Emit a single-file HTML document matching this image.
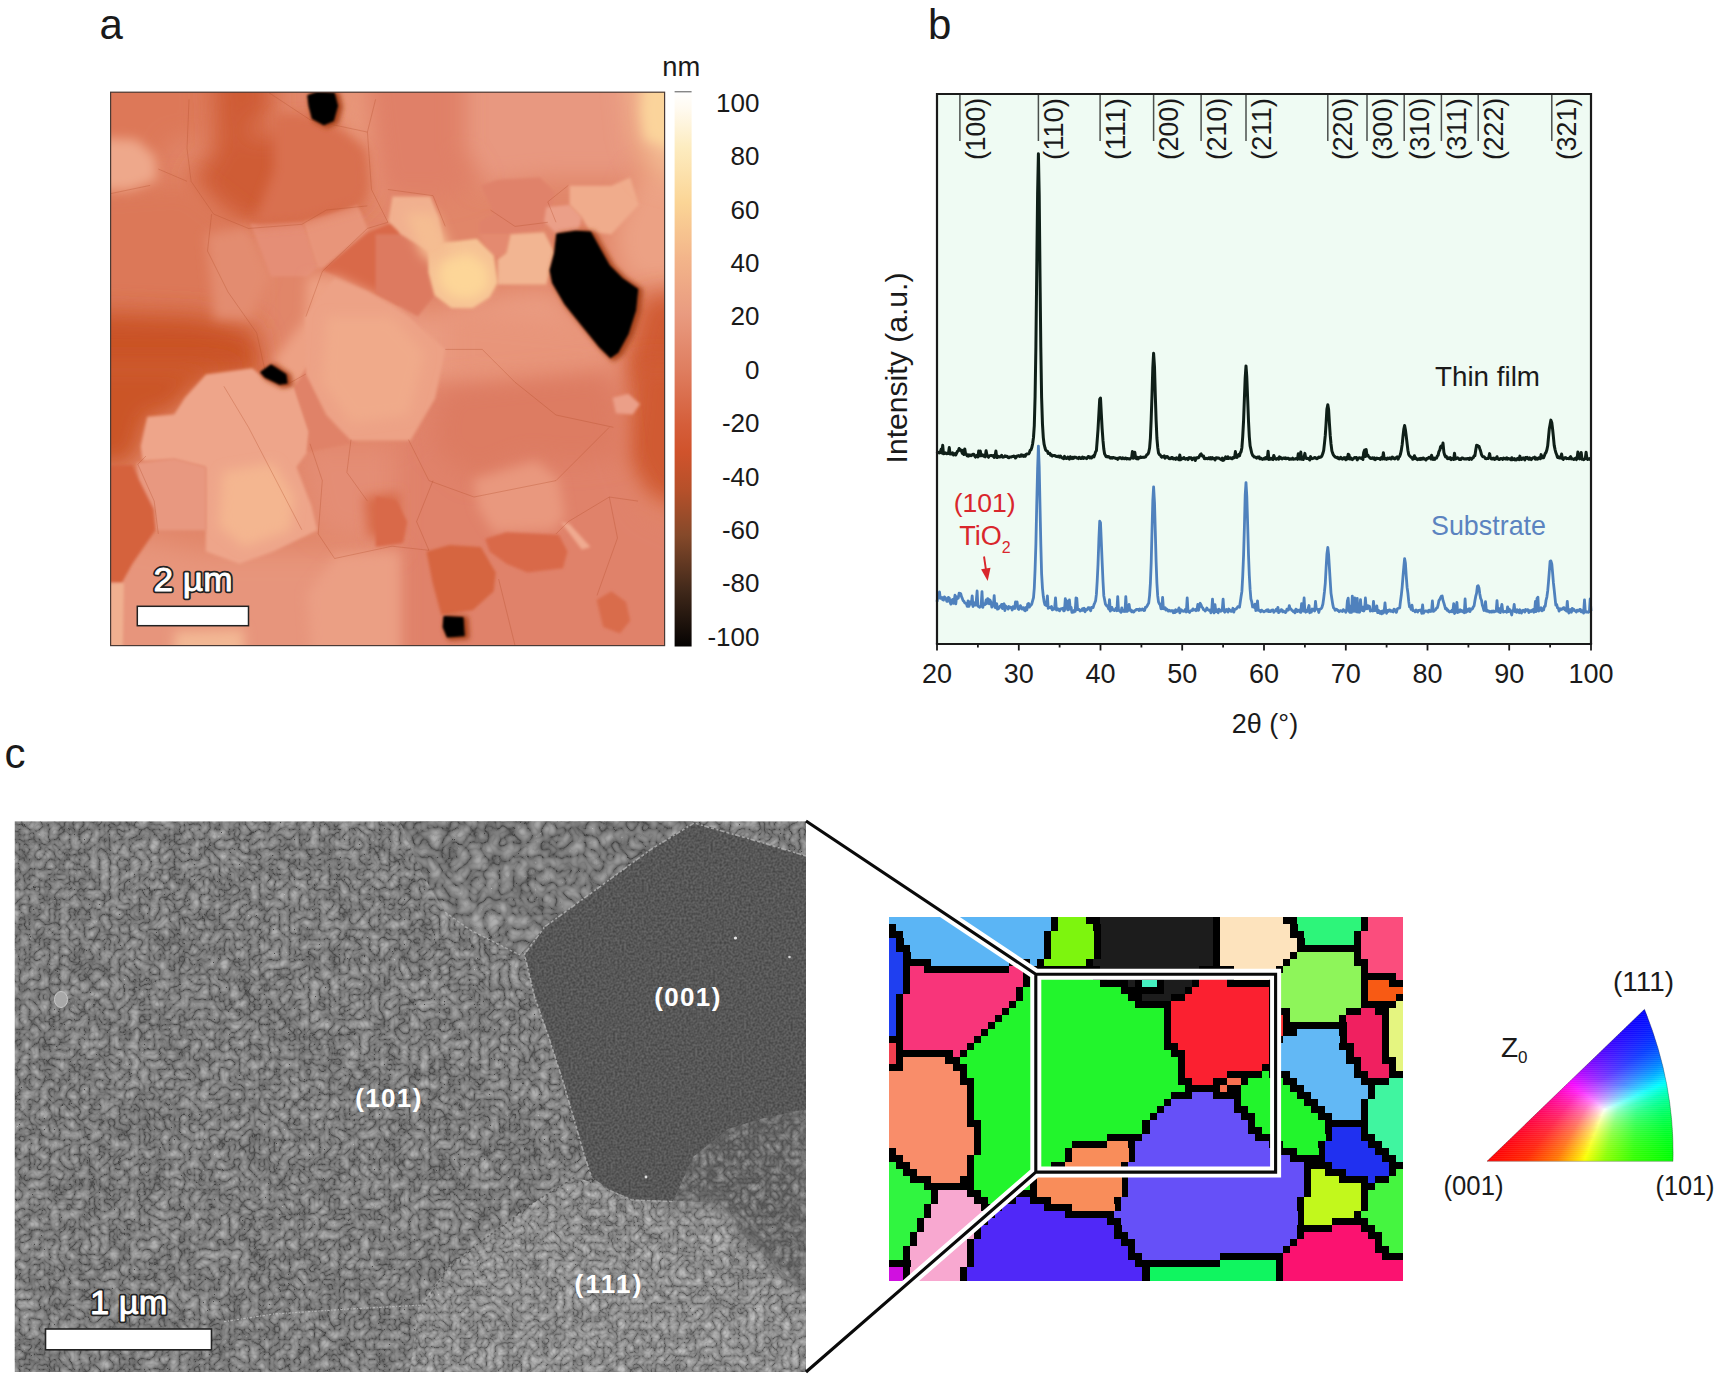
<!DOCTYPE html>
<html><head><meta charset="utf-8"><title>Figure</title>
<style>html,body{margin:0;padding:0;background:#fff;overflow:hidden}svg{display:block}text{font-family:"Liberation Sans",sans-serif}</style>
</head><body>
<svg width="1725" height="1378" viewBox="0 0 1725 1378">
<rect width="1725" height="1378" fill="#fff"/>
<defs><filter id="ab1" x="-20%" y="-20%" width="140%" height="140%"><feGaussianBlur stdDeviation="3.5"/></filter><filter id="ab2" x="-30%" y="-30%" width="160%" height="160%"><feGaussianBlur stdDeviation="14"/></filter><filter id="ab3" x="-40%" y="-40%" width="180%" height="180%"><feGaussianBlur stdDeviation="30"/></filter><filter id="ah" x="-30%" y="-30%" width="160%" height="160%"><feGaussianBlur stdDeviation="2"/></filter><filter id="ah2" x="-40%" y="-40%" width="180%" height="180%"><feGaussianBlur stdDeviation="6"/></filter><clipPath id="afmclip"><rect x="14" y="12" width="1351" height="1350"/></clipPath><linearGradient id="cbar" x1="0" y1="0" x2="0" y2="1"><stop offset="0" stop-color="#ffffff"/><stop offset="0.03" stop-color="#fffaf0"/><stop offset="0.1" stop-color="#fdecc0"/><stop offset="0.2" stop-color="#fbd596"/><stop offset="0.3" stop-color="#f3b58a"/><stop offset="0.4" stop-color="#e99b80"/><stop offset="0.5" stop-color="#df7e60"/><stop offset="0.6" stop-color="#d55e3a"/><stop offset="0.65" stop-color="#d0532c"/><stop offset="0.72" stop-color="#b5502a"/><stop offset="0.8" stop-color="#85492a"/><stop offset="0.9" stop-color="#40281a"/><stop offset="1" stop-color="#050302"/></linearGradient></defs>
<g transform="translate(105,87) scale(0.41001)"><g clip-path="url(#afmclip)">
<rect x="0" y="0" width="1378" height="1378" fill="#e18669"/>
<polygon points="-150,-150 246,-150 246,118 154,133 128,257 -150,267" fill="#dd7858" filter="url(#ab3)"/>
<polygon points="252,-140 400,-140 411,67 328,118 513,103 636,154 642,246 616,287 482,334 328,349 272,328 205,226 267,154" fill="#cf5c36" filter="url(#ab3)"/>
<polygon points="580,-150 707,-150 707,267 647,267 636,154 565,98" fill="#e9997c" filter="url(#ab3)"/>
<polygon points="-150,257 205,231 359,349 359,565 205,565 -150,539" fill="#dc7858" filter="url(#ab3)"/>
<polygon points="-150,539 231,554 370,590 390,707 -150,707" fill="#ca5226" filter="url(#ab3)"/>
<polygon points="-150,671 359,671 246,701 195,758 169,799 103,804 87,876 62,922 -150,927" fill="#cb5428" filter="url(#ab3)"/>
<polygon points="866,-150 1312,-150 1302,221 1081,221 917,241 866,154" fill="#e89880" filter="url(#ab3)"/>
<polygon points="619,-150 866,-150 866,154 917,241 825,267 671,267" fill="#e08068" filter="url(#ab3)"/>
<polygon points="671,539 825,554 979,503 1092,493 1184,616 1210,719 671,719" fill="#ea9c82" filter="url(#ab3)"/>
<polygon points="1302,205 1528,205 1528,462 1312,488 1261,462 1235,359" fill="#eca184" filter="url(#ab3)"/>
<polygon points="1312,513 1539,488 1539,719 1261,719" fill="#d05a32" filter="url(#ab3)"/>
<polygon points="1287,671 1539,671 1539,1081 1312,989 1261,902 1276,799" fill="#d05a32" filter="url(#ab3)"/>
<polygon points="799,748 1235,671 1261,902 1312,1030 1528,1133 1528,1528 671,1528 671,876 737,861" fill="#e0826a" filter="url(#ab3)"/>
<polygon points="51,1092 246,1133 411,1133 565,1133 707,1133 707,1528 -150,1528 -135,1210" fill="#e7957b" filter="url(#ab3)"/>
<polygon points="472,876 707,876 707,1133 518,1081 503,1020" fill="#e48d74" filter="url(#ab3)"/>
<polygon points="830,540 1230,580 1250,720 1000,740 830,720" fill="#e8957a" filter="url(#ab3)"/>
<polygon points="825,732 1235,691 1261,902 1133,917 1030,902 897,958 799,876" fill="#dd7c62" filter="url(#ab3)"/>
<polygon points="-150,118 77,128 123,169 128,226 62,252 -150,257" fill="#eea88b" filter="url(#ab2)"/>
<polygon points="246,359 354,339 405,462 359,565 267,565" fill="#e38c70" filter="url(#ab2)"/>
<polygon points="354,334 482,328 518,441 493,462 405,462" fill="#e58e76" filter="url(#ab1)"/>
<polygon points="482,328 616,287 642,349 534,441 518,441" fill="#e8957a" filter="url(#ab1)"/>
<polygon points="529,447 642,354 719,323 719,534 565,462" fill="#d9694a" filter="url(#ab1)"/>
<polygon points="493,462 565,462 719,534 719,719 441,719 411,667 488,565" fill="#eda184" filter="url(#ab2)"/>
<polygon points="411,67 493,67 565,98 636,154 642,246 616,287 482,328 359,339 411,205" fill="#d9704f" filter="url(#ab2)"/>
<polygon points="660,359 722,359 789,400 789,452 804,508 763,559 660,503" fill="#dd7a60" filter="url(#ab1)"/>
<polygon points="917,241 958,226 1061,221 1097,257 1081,328 1061,349 989,359 912,359 912,328 948,308" fill="#e0826a" filter="url(#ab1)"/>
<polygon points="912,359 989,359 979,405 958,416 938,405" fill="#e48a70" filter="url(#ab1)"/>
<polygon points="701,267 794,267 814,318 825,380 789,400 722,359 691,328" fill="#f1b08f" filter="url(#ab1)"/>
<polygon points="989,359 1071,354 1097,405 1086,447 1076,482 958,482 958,421 979,405" fill="#f2b592" filter="url(#ab1)"/>
<polygon points="789,400 825,380 907,370 948,411 958,477 938,513 897,539 845,539 804,508 789,452" fill="#f6c294" filter="url(#ab1)"/>
<polygon points="732,308 804,308 840,390 825,441 773,411" fill="#f5bd92" filter="url(#ab2)"/>
<polygon points="820,426 886,405 932,436 938,488 897,518 845,513 814,477" fill="#fdd698" filter="url(#ab2)"/>
<polygon points="1076,293 1133,287 1163,318 1153,354 1102,359 1071,328" fill="#eb9f88" filter="url(#ab1)"/>
<polygon points="1133,241 1235,241 1281,221 1302,287 1235,359 1184,354 1163,318 1133,287" fill="#f0ac8c" filter="url(#ab1)"/>
<polygon points="1261,-140 1519,-140 1519,267 1328,216 1287,128" fill="#f3b891" filter="url(#ab3)"/>
<polygon points="1323,-140 1519,-140 1519,241 1493,195 1317,128 1307,62" fill="#fbd49b" filter="url(#ab2)"/>
<polygon points="246,701 359,686 390,712 462,732 498,840 493,891 467,927 503,1020 518,1081 411,1133 328,1163 246,1133 246,927 169,907 92,912 87,876 103,804 169,799 195,758" fill="#eea58a" filter="url(#ab1)"/>
<polygon points="287,938 411,917 462,999 452,1081 339,1122 277,1071" fill="#f4b690" filter="url(#ab2)"/>
<polygon points="77,917 169,907 246,927 246,1081 123,1081 118,1030 82,958" fill="#e89880" filter="url(#ab1)"/>
<polygon points="-150,927 67,922 82,958 118,1030 123,1081 67,1163 41,1210 -150,1204" fill="#d5623e" filter="url(#ab1)"/>
<polygon points="-135,1215 46,1210 41,1514 -135,1514" fill="#f0b090" filter="url(#ab1)"/>
<polygon points="169,1328 339,1323 339,1514 169,1514" fill="#f3b894" filter="url(#ab2)"/>
<polygon points="462,732 493,681 524,773 565,835 616,866 493,891 498,840" fill="#e08268" filter="url(#ab1)"/>
<polygon points="631,999 719,989 719,1102 642,1097" fill="#d86a48" filter="url(#ab2)"/>
<polygon points="565,1143 719,1133 719,1514 513,1514 493,1235" fill="#eb9f84" filter="url(#ab2)"/>
<polygon points="560,468 640,500 740,560 830,640 805,760 745,862 600,862 540,800 490,700 488,560" fill="#eda286" filter="url(#ab1)"/>
<polygon points="540,560 700,560 780,650 740,800 600,820 530,720" fill="#f0aa8a" filter="url(#ab2)"/>
<polygon points="897,958 1051,912 1107,958 1122,1051 1092,1081 948,1086 912,1030" fill="#e9987e" filter="url(#ab2)"/>
<polygon points="1238,758 1276,748 1305,773 1287,799 1246,796" fill="#eb9f88" filter="url(#ab1)"/>
<polygon points="927,1102 979,1086 1107,1092 1128,1133 1117,1174 1030,1184 979,1163 938,1133" fill="#d9694a" filter="url(#ab1)"/>
<polygon points="784,1133 840,1117 917,1122 953,1184 948,1230 897,1276 820,1287 799,1210" fill="#d66540" filter="url(#ab1)"/>
<polygon points="660,999 712,1009 737,1061 727,1112 660,1122" fill="#d9694a" filter="url(#ab1)"/>
<polygon points="1199,1251 1235,1230 1271,1256 1281,1302 1256,1333 1215,1317" fill="#d96c4c" filter="url(#ab1)"/>
<polygon points="1112,1061 1133,1066 1184,1122 1163,1128" fill="#f0aa90" filter="url(#ab1)"/>
<polyline points="205,30 200,150 210,230 265,310 350,345" fill="none" stroke="#b24c28" stroke-opacity="0.32" stroke-width="2.4" stroke-linejoin="round"/>
<polyline points="350,345 480,335 540,300 640,290" fill="none" stroke="#b24c28" stroke-opacity="0.32" stroke-width="2.4" stroke-linejoin="round"/>
<polyline points="400,14 500,80 640,110 660,30" fill="none" stroke="#b24c28" stroke-opacity="0.32" stroke-width="2.4" stroke-linejoin="round"/>
<polyline points="640,110 650,250 690,330 640,345 530,450 490,560" fill="none" stroke="#b24c28" stroke-opacity="0.32" stroke-width="2.4" stroke-linejoin="round"/>
<polyline points="690,250 800,265 830,340" fill="none" stroke="#b24c28" stroke-opacity="0.32" stroke-width="2.4" stroke-linejoin="round"/>
<polyline points="130,200 200,230" fill="none" stroke="#b24c28" stroke-opacity="0.32" stroke-width="2.4" stroke-linejoin="round"/>
<polyline points="14,260 110,240" fill="none" stroke="#b24c28" stroke-opacity="0.32" stroke-width="2.4" stroke-linejoin="round"/>
<polyline points="260,310 250,400 300,500 370,600 390,690" fill="none" stroke="#b24c28" stroke-opacity="0.32" stroke-width="2.4" stroke-linejoin="round"/>
<polyline points="445,725 490,700" fill="none" stroke="#b24c28" stroke-opacity="0.32" stroke-width="2.4" stroke-linejoin="round"/>
<polyline points="920,640 1000,720 1100,800 1240,830" fill="none" stroke="#b24c28" stroke-opacity="0.32" stroke-width="2.4" stroke-linejoin="round"/>
<polyline points="290,730 350,830 480,1080" fill="none" stroke="#b24c28" stroke-opacity="0.32" stroke-width="2.4" stroke-linejoin="round"/>
<polyline points="1100,330 1080,280 1130,240" fill="none" stroke="#b24c28" stroke-opacity="0.32" stroke-width="2.4" stroke-linejoin="round"/>
<polyline points="940,300 1000,340 1080,330" fill="none" stroke="#b24c28" stroke-opacity="0.32" stroke-width="2.4" stroke-linejoin="round"/>
<polyline points="740,860 790,960 900,1000 1100,960 1230,830" fill="none" stroke="#b24c28" stroke-opacity="0.32" stroke-width="2.4" stroke-linejoin="round"/>
<polyline points="600,860 590,940 640,1010" fill="none" stroke="#b24c28" stroke-opacity="0.32" stroke-width="2.4" stroke-linejoin="round"/>
<polyline points="500,870 530,960 520,1090 560,1150" fill="none" stroke="#b24c28" stroke-opacity="0.32" stroke-width="2.4" stroke-linejoin="round"/>
<polyline points="800,960 760,1060 790,1130" fill="none" stroke="#b24c28" stroke-opacity="0.32" stroke-width="2.4" stroke-linejoin="round"/>
<polyline points="1100,1090 1130,1060 1230,1000 1300,1010" fill="none" stroke="#b24c28" stroke-opacity="0.32" stroke-width="2.4" stroke-linejoin="round"/>
<polyline points="560,1150 700,1120 790,1130" fill="none" stroke="#b24c28" stroke-opacity="0.32" stroke-width="2.4" stroke-linejoin="round"/>
<polyline points="100,900 80,920 120,1010 130,1090" fill="none" stroke="#b24c28" stroke-opacity="0.32" stroke-width="2.4" stroke-linejoin="round"/>
<polyline points="830,640 920,640" fill="none" stroke="#b24c28" stroke-opacity="0.32" stroke-width="2.4" stroke-linejoin="round"/>
<polyline points="1230,1000 1250,1100 1200,1240" fill="none" stroke="#b24c28" stroke-opacity="0.32" stroke-width="2.4" stroke-linejoin="round"/>
<polyline points="960,1200 1000,1362" fill="none" stroke="#b24c28" stroke-opacity="0.32" stroke-width="2.4" stroke-linejoin="round"/>
<polygon points="495,21 518,13 559,15 567,46 557,82 534,92 506,77 498,46" fill="#a8441a" stroke="#a8441a" stroke-width="12" stroke-linejoin="round" filter="url(#ah2)" transform="translate(7,3)"/>
<polygon points="495,21 518,13 559,15 567,46 557,82 534,92 506,77 498,46" fill="#050200" stroke="#050200" stroke-width="3" stroke-linejoin="round" filter="url(#ah)"/>
<polygon points="1102,359 1148,352 1184,354 1204,390 1230,436 1261,467 1299,493 1294,544 1276,601 1251,647 1233,660 1204,631 1163,580 1122,529 1092,477 1086,447 1097,405" fill="#a8441a" stroke="#a8441a" stroke-width="12" stroke-linejoin="round" filter="url(#ah2)" transform="translate(7,3)"/>
<polygon points="1102,359 1148,352 1184,354 1204,390 1230,436 1261,467 1299,493 1294,544 1276,601 1251,647 1233,660 1204,631 1163,580 1122,529 1092,477 1086,447 1097,405" fill="#050200" stroke="#050200" stroke-width="3" stroke-linejoin="round" filter="url(#ah)"/>
<polygon points="380,696 405,678 441,701 444,722 426,725 390,707" fill="#a8441a" stroke="#a8441a" stroke-width="12" stroke-linejoin="round" filter="url(#ah2)" transform="translate(7,3)"/>
<polygon points="380,696 405,678 441,701 444,722 426,725 390,707" fill="#050200" stroke="#050200" stroke-width="3" stroke-linejoin="round" filter="url(#ah)"/>
<polygon points="827,1292 873,1294 876,1338 835,1341 825,1317" fill="#a8441a" stroke="#a8441a" stroke-width="12" stroke-linejoin="round" filter="url(#ah2)" transform="translate(7,3)"/>
<polygon points="827,1292 873,1294 876,1338 835,1341 825,1317" fill="#050200" stroke="#050200" stroke-width="3" stroke-linejoin="round" filter="url(#ah)"/>
</g></g>
<rect x="110.6" y="92.2" width="554" height="553.4" fill="none" stroke="#4a3a35" stroke-width="1.2"/>
<rect x="137.3" y="606.3" width="111.2" height="19.4" fill="#fff" stroke="#222" stroke-width="1.5"/>
<text x="153.5" y="591" font-size="33" textLength="79" lengthAdjust="spacingAndGlyphs" fill="#222" stroke="#222" stroke-width="4.4" stroke-linejoin="round">2 µm</text>
<text x="153.5" y="591" font-size="33" textLength="79" lengthAdjust="spacingAndGlyphs" fill="#fff" stroke="#fff" stroke-width="0.9" stroke-linejoin="round">2 µm</text>
<rect x="674.6" y="91.5" width="17" height="555" fill="url(#cbar)"/>
<line x1="674.6" y1="91.8" x2="691.6" y2="91.8" stroke="#555" stroke-width="1"/>
<text x="681.3" y="76" font-size="27" textLength="38" lengthAdjust="spacingAndGlyphs" text-anchor="middle" fill="#1a1a1a">nm</text>
<text x="759.5" y="111.8" font-size="26" text-anchor="end" fill="#1a1a1a">100</text>
<text x="759.5" y="165.2" font-size="26" text-anchor="end" fill="#1a1a1a">80</text>
<text x="759.5" y="218.6" font-size="26" text-anchor="end" fill="#1a1a1a">60</text>
<text x="759.5" y="272.0" font-size="26" text-anchor="end" fill="#1a1a1a">40</text>
<text x="759.5" y="325.4" font-size="26" text-anchor="end" fill="#1a1a1a">20</text>
<text x="759.5" y="378.8" font-size="26" text-anchor="end" fill="#1a1a1a">0</text>
<text x="759.5" y="432.2" font-size="26" text-anchor="end" fill="#1a1a1a">-20</text>
<text x="759.5" y="485.6" font-size="26" text-anchor="end" fill="#1a1a1a">-40</text>
<text x="759.5" y="539.0" font-size="26" text-anchor="end" fill="#1a1a1a">-60</text>
<text x="759.5" y="592.4" font-size="26" text-anchor="end" fill="#1a1a1a">-80</text>
<text x="759.5" y="645.8" font-size="26" text-anchor="end" fill="#1a1a1a">-100</text>
<rect x="937" y="94" width="654" height="550" fill="#effbf3"/>
<line x1="959.9" y1="94" x2="959.9" y2="141" stroke="#4a4f4c" stroke-width="1.5"/>
<text transform="translate(984.5,160) rotate(-90)" font-size="27" textLength="62" lengthAdjust="spacingAndGlyphs" fill="#1a1a1a">(100)</text>
<line x1="1038.4" y1="94" x2="1038.4" y2="141" stroke="#4a4f4c" stroke-width="1.5"/>
<text transform="translate(1063.0,160) rotate(-90)" font-size="27" textLength="62" lengthAdjust="spacingAndGlyphs" fill="#1a1a1a">(110)</text>
<line x1="1100.1" y1="94" x2="1100.1" y2="141" stroke="#4a4f4c" stroke-width="1.5"/>
<text transform="translate(1124.7,160) rotate(-90)" font-size="27" textLength="62" lengthAdjust="spacingAndGlyphs" fill="#1a1a1a">(111)</text>
<line x1="1153.6" y1="94" x2="1153.6" y2="141" stroke="#4a4f4c" stroke-width="1.5"/>
<text transform="translate(1178.2,160) rotate(-90)" font-size="27" textLength="62" lengthAdjust="spacingAndGlyphs" fill="#1a1a1a">(200)</text>
<line x1="1201.1" y1="94" x2="1201.1" y2="141" stroke="#4a4f4c" stroke-width="1.5"/>
<text transform="translate(1225.7,160) rotate(-90)" font-size="27" textLength="62" lengthAdjust="spacingAndGlyphs" fill="#1a1a1a">(210)</text>
<line x1="1246.0" y1="94" x2="1246.0" y2="141" stroke="#4a4f4c" stroke-width="1.5"/>
<text transform="translate(1270.6,160) rotate(-90)" font-size="27" textLength="62" lengthAdjust="spacingAndGlyphs" fill="#1a1a1a">(211)</text>
<line x1="1327.8" y1="94" x2="1327.8" y2="141" stroke="#4a4f4c" stroke-width="1.5"/>
<text transform="translate(1352.4,160) rotate(-90)" font-size="27" textLength="62" lengthAdjust="spacingAndGlyphs" fill="#1a1a1a">(220)</text>
<line x1="1367.0" y1="94" x2="1367.0" y2="141" stroke="#4a4f4c" stroke-width="1.5"/>
<text transform="translate(1391.6,160) rotate(-90)" font-size="27" textLength="62" lengthAdjust="spacingAndGlyphs" fill="#1a1a1a">(300)</text>
<line x1="1404.2" y1="94" x2="1404.2" y2="141" stroke="#4a4f4c" stroke-width="1.5"/>
<text transform="translate(1428.8,160) rotate(-90)" font-size="27" textLength="62" lengthAdjust="spacingAndGlyphs" fill="#1a1a1a">(310)</text>
<line x1="1441.4" y1="94" x2="1441.4" y2="141" stroke="#4a4f4c" stroke-width="1.5"/>
<text transform="translate(1466.0,160) rotate(-90)" font-size="27" textLength="62" lengthAdjust="spacingAndGlyphs" fill="#1a1a1a">(311)</text>
<line x1="1478.2" y1="94" x2="1478.2" y2="141" stroke="#4a4f4c" stroke-width="1.5"/>
<text transform="translate(1502.8,160) rotate(-90)" font-size="27" textLength="62" lengthAdjust="spacingAndGlyphs" fill="#1a1a1a">(222)</text>
<line x1="1551.8" y1="94" x2="1551.8" y2="141" stroke="#4a4f4c" stroke-width="1.5"/>
<text transform="translate(1576.4,160) rotate(-90)" font-size="27" textLength="62" lengthAdjust="spacingAndGlyphs" fill="#1a1a1a">(321)</text>
<polyline fill="none" stroke="#4f81bd" stroke-width="2.8" stroke-linejoin="round" points="937.0,601.7 937.8,597.0 938.6,596.7 939.5,591.8 940.3,598.3 941.1,597.8 941.9,597.5 942.7,599.7 943.5,600.1 944.4,596.9 945.2,597.5 946.0,598.6 946.8,601.4 947.6,601.3 948.4,597.4 949.3,597.9 950.1,602.2 950.9,604.1 951.7,600.8 952.5,599.5 953.4,603.4 954.2,600.4 955.0,595.1 955.8,603.9 956.6,596.8 957.4,598.7 958.3,598.1 959.1,593.2 959.9,593.3 960.7,593.7 961.5,596.7 962.3,598.4 963.2,600.7 964.0,601.4 964.8,602.9 965.6,603.2 966.4,603.9 967.2,606.3 968.1,600.8 968.9,606.4 969.7,603.6 970.5,601.8 971.3,604.0 972.2,595.8 973.0,606.5 973.8,602.7 974.6,605.2 975.4,605.1 976.2,601.9 977.1,591.0 977.9,606.2 978.7,606.5 979.5,607.2 980.3,606.3 981.1,606.1 982.0,591.6 982.8,607.4 983.6,603.6 984.4,604.4 985.2,604.5 986.1,600.0 986.9,603.5 987.7,598.6 988.5,599.3 989.3,603.8 990.1,600.2 991.0,602.3 991.8,607.1 992.6,603.6 993.4,605.3 994.2,595.7 995.0,607.4 995.9,607.8 996.7,603.7 997.5,609.2 998.3,608.8 999.1,608.1 999.9,606.2 1000.8,606.2 1001.6,604.4 1002.4,608.6 1003.2,604.6 1004.0,603.8 1004.9,610.5 1005.7,606.0 1006.5,606.7 1007.3,607.0 1008.1,609.1 1008.9,606.5 1009.8,607.7 1010.6,607.1 1011.4,607.6 1012.2,610.0 1013.0,606.6 1013.8,608.2 1014.7,608.5 1015.5,602.0 1016.3,606.2 1017.1,601.9 1017.9,608.7 1018.8,609.4 1019.6,608.2 1020.4,605.6 1021.2,607.0 1022.0,609.1 1022.8,607.9 1023.7,607.7 1024.5,610.2 1025.3,610.7 1026.1,607.3 1026.9,609.9 1027.7,604.0 1028.6,603.5 1029.4,607.2 1030.2,605.0 1031.0,605.3 1031.8,603.9 1032.6,600.8 1033.5,597.6 1034.3,588.0 1035.1,569.0 1035.9,543.9 1036.7,506.2 1037.6,469.1 1038.4,446.1 1039.2,466.7 1040.0,505.5 1040.8,543.6 1041.6,573.6 1042.5,588.6 1043.3,596.3 1044.1,601.6 1044.9,604.7 1045.7,603.7 1046.5,605.6 1047.4,595.9 1048.2,608.3 1049.0,607.5 1049.8,607.3 1050.6,608.0 1051.5,606.4 1052.3,609.9 1053.1,609.3 1053.9,609.1 1054.7,607.4 1055.5,597.9 1056.4,610.0 1057.2,609.7 1058.0,608.8 1058.8,610.2 1059.6,610.8 1060.4,608.8 1061.3,609.0 1062.1,608.6 1062.9,608.3 1063.7,610.9 1064.5,610.5 1065.3,598.6 1066.2,608.4 1067.0,601.0 1067.8,609.9 1068.6,609.5 1069.4,600.0 1070.3,609.2 1071.1,607.2 1071.9,612.4 1072.7,612.1 1073.5,612.2 1074.3,610.2 1075.2,611.3 1076.0,597.9 1076.8,598.3 1077.6,609.7 1078.4,609.5 1079.2,609.3 1080.1,611.0 1080.9,610.5 1081.7,610.3 1082.5,608.6 1083.3,610.2 1084.2,608.2 1085.0,611.8 1085.8,609.7 1086.6,610.0 1087.4,609.6 1088.2,607.6 1089.1,607.7 1089.9,609.2 1090.7,610.8 1091.5,607.3 1092.3,607.4 1093.1,607.6 1094.0,604.6 1094.8,602.8 1095.6,600.8 1096.4,594.2 1097.2,581.2 1098.0,564.6 1098.9,539.3 1099.7,521.2 1100.5,522.7 1101.3,541.6 1102.1,560.8 1103.0,581.3 1103.8,595.7 1104.6,599.7 1105.4,603.9 1106.2,605.2 1107.0,606.1 1107.9,607.0 1108.7,609.0 1109.5,599.7 1110.3,611.2 1111.1,609.6 1111.9,607.4 1112.8,609.9 1113.6,609.6 1114.4,610.6 1115.2,610.1 1116.0,608.2 1116.9,610.8 1117.7,596.7 1118.5,609.6 1119.3,610.8 1120.1,610.9 1120.9,612.4 1121.8,607.8 1122.6,611.0 1123.4,611.4 1124.2,610.2 1125.0,611.4 1125.8,596.6 1126.7,611.4 1127.5,611.3 1128.3,609.5 1129.1,604.4 1129.9,610.4 1130.7,609.8 1131.6,611.8 1132.4,610.8 1133.2,612.1 1134.0,611.9 1134.8,610.5 1135.7,610.2 1136.5,609.3 1137.3,609.4 1138.1,609.3 1138.9,610.5 1139.7,609.0 1140.6,610.0 1141.4,610.0 1142.2,609.0 1143.0,609.1 1143.8,610.7 1144.6,610.5 1145.5,607.2 1146.3,607.2 1147.1,606.0 1147.9,604.4 1148.7,603.1 1149.6,595.3 1150.4,583.1 1151.2,562.6 1152.0,531.0 1152.8,501.1 1153.6,486.8 1154.5,502.5 1155.3,531.4 1156.1,561.3 1156.9,583.0 1157.7,595.9 1158.5,601.9 1159.4,603.8 1160.2,604.7 1161.0,608.8 1161.8,608.7 1162.6,597.4 1163.4,608.5 1164.3,608.9 1165.1,607.7 1165.9,610.1 1166.7,609.1 1167.5,609.8 1168.4,611.1 1169.2,610.3 1170.0,611.1 1170.8,611.0 1171.6,610.6 1172.4,610.7 1173.3,612.8 1174.1,610.6 1174.9,612.6 1175.7,609.8 1176.5,611.7 1177.3,611.1 1178.2,610.1 1179.0,607.9 1179.8,612.8 1180.6,609.7 1181.4,609.9 1182.3,611.1 1183.1,611.1 1183.9,611.3 1184.7,610.7 1185.5,609.3 1186.3,612.0 1187.2,597.9 1188.0,611.3 1188.8,611.7 1189.6,612.4 1190.4,610.8 1191.2,610.7 1192.1,610.7 1192.9,608.9 1193.7,610.1 1194.5,609.8 1195.3,609.5 1196.1,610.7 1197.0,609.8 1197.8,604.4 1198.6,610.3 1199.4,605.5 1200.2,603.3 1201.1,605.0 1201.9,607.2 1202.7,607.8 1203.5,609.7 1204.3,609.9 1205.1,611.0 1206.0,610.2 1206.8,608.0 1207.6,609.6 1208.4,610.0 1209.2,610.4 1210.0,609.9 1210.9,612.8 1211.7,610.8 1212.5,599.1 1213.3,610.7 1214.1,612.9 1215.0,604.6 1215.8,611.7 1216.6,609.5 1217.4,611.5 1218.2,612.8 1219.0,609.2 1219.9,610.0 1220.7,611.2 1221.5,610.7 1222.3,609.4 1223.1,599.2 1223.9,610.9 1224.8,612.2 1225.6,611.1 1226.4,609.4 1227.2,610.1 1228.0,612.1 1228.8,609.0 1229.7,609.9 1230.5,611.0 1231.3,611.4 1232.1,611.0 1232.9,608.3 1233.8,612.1 1234.6,609.3 1235.4,609.2 1236.2,608.9 1237.0,608.1 1237.8,606.7 1238.7,606.6 1239.5,607.2 1240.3,601.9 1241.1,596.4 1241.9,591.4 1242.7,576.6 1243.6,554.6 1244.4,526.7 1245.2,495.0 1246.0,482.6 1246.8,496.4 1247.7,526.1 1248.5,554.9 1249.3,575.3 1250.1,589.2 1250.9,598.8 1251.7,601.6 1252.6,606.9 1253.4,606.5 1254.2,607.4 1255.0,604.2 1255.8,610.6 1256.6,609.6 1257.5,600.9 1258.3,610.4 1259.1,609.9 1259.9,610.8 1260.7,611.7 1261.5,610.1 1262.4,611.0 1263.2,611.1 1264.0,611.9 1264.8,611.4 1265.6,610.8 1266.5,610.1 1267.3,611.2 1268.1,609.7 1268.9,611.6 1269.7,611.0 1270.5,611.6 1271.4,610.4 1272.2,610.1 1273.0,610.0 1273.8,612.3 1274.6,610.8 1275.4,610.8 1276.3,609.1 1277.1,611.1 1277.9,607.3 1278.7,612.7 1279.5,610.9 1280.4,611.2 1281.2,609.6 1282.0,610.0 1282.8,611.9 1283.6,611.0 1284.4,611.7 1285.3,612.6 1286.1,611.9 1286.9,609.1 1287.7,610.1 1288.5,610.0 1289.3,605.6 1290.2,608.9 1291.0,609.0 1291.8,610.4 1292.6,610.6 1293.4,611.8 1294.2,610.9 1295.1,612.8 1295.9,609.2 1296.7,609.7 1297.5,611.5 1298.3,610.9 1299.2,610.1 1300.0,612.0 1300.8,612.4 1301.6,603.7 1302.4,610.7 1303.2,611.1 1304.1,598.0 1304.9,611.2 1305.7,612.2 1306.5,610.5 1307.3,611.5 1308.1,608.6 1309.0,605.5 1309.8,612.8 1310.6,610.9 1311.4,612.0 1312.2,609.0 1313.1,610.4 1313.9,609.0 1314.7,611.0 1315.5,601.3 1316.3,608.9 1317.1,609.3 1318.0,609.4 1318.8,612.5 1319.6,609.4 1320.4,609.1 1321.2,608.6 1322.0,607.2 1322.9,604.0 1323.7,598.2 1324.5,591.4 1325.3,583.0 1326.1,568.0 1326.9,554.3 1327.8,547.4 1328.6,554.7 1329.4,567.7 1330.2,580.5 1331.0,593.1 1331.9,599.0 1332.7,604.1 1333.5,607.8 1334.3,608.5 1335.1,610.2 1335.9,609.2 1336.8,609.3 1337.6,610.5 1338.4,610.5 1339.2,611.7 1340.0,611.0 1340.8,610.6 1341.7,611.2 1342.5,611.5 1343.3,609.6 1344.1,610.7 1344.9,610.6 1345.8,612.3 1346.6,610.5 1347.4,600.8 1348.2,598.1 1349.0,611.0 1349.8,612.3 1350.7,606.0 1351.5,612.4 1352.3,596.1 1353.1,611.2 1353.9,611.3 1354.7,598.0 1355.6,609.5 1356.4,611.9 1357.2,598.4 1358.0,612.2 1358.8,611.5 1359.6,612.2 1360.5,599.6 1361.3,609.8 1362.1,610.4 1362.9,607.1 1363.7,611.0 1364.6,609.3 1365.4,598.0 1366.2,608.3 1367.0,608.8 1367.8,605.6 1368.6,608.3 1369.5,606.3 1370.3,611.1 1371.1,610.1 1371.9,610.7 1372.7,611.0 1373.5,601.3 1374.4,610.5 1375.2,610.5 1376.0,610.0 1376.8,605.9 1377.6,612.7 1378.5,610.2 1379.3,612.3 1380.1,613.3 1380.9,611.4 1381.7,613.8 1382.5,611.0 1383.4,613.0 1384.2,611.1 1385.0,602.9 1385.8,611.5 1386.6,613.2 1387.4,610.4 1388.3,611.5 1389.1,609.9 1389.9,609.9 1390.7,611.4 1391.5,610.6 1392.3,611.3 1393.2,612.0 1394.0,609.2 1394.8,609.6 1395.6,610.2 1396.4,612.4 1397.3,609.1 1398.1,608.3 1398.9,608.2 1399.7,607.9 1400.5,601.2 1401.3,595.3 1402.2,586.6 1403.0,576.3 1403.8,567.2 1404.6,558.6 1405.4,562.9 1406.2,575.6 1407.1,587.2 1407.9,593.1 1408.7,601.2 1409.5,606.7 1410.3,607.1 1411.2,609.4 1412.0,605.2 1412.8,610.6 1413.6,610.6 1414.4,610.6 1415.2,611.9 1416.1,610.0 1416.9,610.9 1417.7,612.0 1418.5,610.3 1419.3,610.5 1420.1,610.1 1421.0,610.0 1421.8,613.3 1422.6,604.9 1423.4,613.2 1424.2,611.9 1425.0,611.2 1425.9,610.8 1426.7,611.4 1427.5,611.0 1428.3,612.1 1429.1,610.1 1430.0,611.2 1430.8,611.5 1431.6,610.7 1432.4,601.0 1433.2,611.3 1434.0,611.1 1434.9,610.1 1435.7,609.6 1436.5,608.1 1437.3,607.8 1438.1,605.0 1438.9,600.8 1439.8,599.2 1440.6,597.7 1441.4,596.2 1442.2,596.0 1443.0,600.4 1443.9,603.1 1444.7,605.8 1445.5,608.9 1446.3,608.3 1447.1,610.3 1447.9,609.9 1448.8,611.6 1449.6,612.0 1450.4,611.4 1451.2,611.7 1452.0,610.1 1452.8,611.7 1453.7,603.7 1454.5,613.5 1455.3,612.4 1456.1,609.4 1456.9,602.3 1457.7,612.6 1458.6,610.2 1459.4,611.7 1460.2,609.7 1461.0,611.2 1461.8,610.4 1462.7,611.7 1463.5,610.7 1464.3,612.7 1465.1,599.0 1465.9,612.4 1466.7,610.9 1467.6,611.4 1468.4,609.0 1469.2,608.7 1470.0,611.6 1470.8,608.9 1471.6,609.4 1472.5,608.8 1473.3,606.9 1474.1,605.9 1474.9,600.8 1475.7,596.4 1476.6,593.2 1477.4,586.2 1478.2,585.7 1479.0,587.9 1479.8,593.9 1480.6,598.2 1481.5,600.3 1482.3,605.0 1483.1,607.4 1483.9,610.5 1484.7,610.2 1485.5,601.6 1486.4,611.0 1487.2,610.2 1488.0,611.4 1488.8,611.0 1489.6,612.1 1490.4,611.4 1491.3,612.1 1492.1,611.1 1492.9,611.9 1493.7,611.0 1494.5,611.9 1495.4,611.4 1496.2,611.1 1497.0,600.6 1497.8,610.9 1498.6,611.8 1499.4,608.7 1500.3,612.6 1501.1,608.7 1501.9,604.3 1502.7,610.9 1503.5,612.1 1504.3,611.6 1505.2,611.3 1506.0,611.4 1506.8,612.3 1507.6,606.8 1508.4,611.7 1509.3,609.0 1510.1,610.8 1510.9,611.8 1511.7,615.0 1512.5,610.5 1513.3,610.9 1514.2,604.4 1515.0,611.7 1515.8,609.8 1516.6,612.3 1517.4,609.8 1518.2,611.0 1519.1,612.7 1519.9,609.8 1520.7,610.9 1521.5,613.1 1522.3,611.0 1523.1,610.1 1524.0,610.6 1524.8,612.1 1525.6,609.5 1526.4,610.5 1527.2,609.6 1528.1,609.9 1528.9,612.5 1529.7,611.0 1530.5,610.6 1531.3,611.5 1532.1,610.2 1533.0,609.6 1533.8,612.2 1534.6,611.8 1535.4,601.5 1536.2,611.5 1537.0,598.6 1537.9,597.2 1538.7,611.0 1539.5,608.9 1540.3,610.0 1541.1,607.8 1542.0,610.8 1542.8,609.0 1543.6,609.9 1544.4,606.5 1545.2,606.4 1546.0,600.5 1546.9,596.8 1547.7,590.9 1548.5,581.8 1549.3,571.5 1550.1,561.2 1550.9,560.9 1551.8,563.8 1552.6,572.9 1553.4,582.7 1554.2,589.9 1555.0,597.7 1555.8,605.1 1556.7,604.5 1557.5,607.8 1558.3,607.9 1559.1,611.1 1559.9,609.8 1560.8,608.8 1561.6,609.5 1562.4,608.7 1563.2,607.9 1564.0,607.6 1564.8,609.9 1565.7,609.5 1566.5,611.0 1567.3,601.4 1568.1,611.2 1568.9,613.0 1569.7,609.7 1570.6,609.7 1571.4,612.2 1572.2,608.4 1573.0,610.2 1573.8,609.3 1574.7,610.9 1575.5,610.8 1576.3,612.0 1577.1,610.1 1577.9,611.0 1578.7,610.9 1579.6,609.5 1580.4,609.5 1581.2,611.8 1582.0,611.9 1582.8,610.4 1583.6,613.1 1584.5,599.8 1585.3,611.9 1586.1,612.0 1586.9,611.7 1587.7,612.2 1588.5,612.3 1589.4,611.4 1590.2,598.8 1591.0,611.2"/>
<polyline fill="none" stroke="#0f1f18" stroke-width="3" stroke-linejoin="round" points="937.0,453.6 937.8,452.2 938.6,452.6 939.5,453.0 940.3,452.2 941.1,449.4 941.9,452.9 942.7,445.3 943.5,453.8 944.4,453.6 945.2,452.8 946.0,453.2 946.8,453.8 947.6,453.3 948.4,453.4 949.3,447.6 950.1,454.1 950.9,453.8 951.7,454.0 952.5,452.8 953.4,455.0 954.2,454.0 955.0,453.5 955.8,455.0 956.6,453.1 957.4,451.3 958.3,450.9 959.1,448.5 959.9,450.3 960.7,449.9 961.5,451.0 962.3,453.4 963.2,450.4 964.0,454.6 964.8,449.0 965.6,454.2 966.4,454.0 967.2,455.9 968.1,456.2 968.9,454.8 969.7,455.7 970.5,455.1 971.3,455.6 972.2,454.8 973.0,454.2 973.8,454.2 974.6,455.7 975.4,457.1 976.2,455.7 977.1,455.2 977.9,457.0 978.7,450.9 979.5,455.8 980.3,451.1 981.1,455.7 982.0,455.6 982.8,454.9 983.6,456.3 984.4,455.9 985.2,456.8 986.1,450.7 986.9,454.7 987.7,456.0 988.5,457.3 989.3,455.9 990.1,455.6 991.0,455.4 991.8,455.5 992.6,456.1 993.4,455.5 994.2,457.4 995.0,456.2 995.9,450.9 996.7,457.4 997.5,457.5 998.3,456.3 999.1,456.7 999.9,457.0 1000.8,456.4 1001.6,455.3 1002.4,457.0 1003.2,457.2 1004.0,456.9 1004.9,455.9 1005.7,456.5 1006.5,456.2 1007.3,456.4 1008.1,457.5 1008.9,457.7 1009.8,457.1 1010.6,457.0 1011.4,457.0 1012.2,456.5 1013.0,456.5 1013.8,456.0 1014.7,456.4 1015.5,458.0 1016.3,457.0 1017.1,456.1 1017.9,456.0 1018.8,455.6 1019.6,456.4 1020.4,456.3 1021.2,454.9 1022.0,456.1 1022.8,455.2 1023.7,456.4 1024.5,455.3 1025.3,456.1 1026.1,454.3 1026.9,454.0 1027.7,453.9 1028.6,453.8 1029.4,452.6 1030.2,450.3 1031.0,449.8 1031.8,447.6 1032.6,444.0 1033.5,437.4 1034.3,425.5 1035.1,396.3 1035.9,346.3 1036.7,274.6 1037.6,194.1 1038.4,153.8 1039.2,194.6 1040.0,274.6 1040.8,347.3 1041.6,397.3 1042.5,424.7 1043.3,437.6 1044.1,444.2 1044.9,447.5 1045.7,450.1 1046.5,450.7 1047.4,451.3 1048.2,453.5 1049.0,453.1 1049.8,453.3 1050.6,455.3 1051.5,454.9 1052.3,456.1 1053.1,455.6 1053.9,455.4 1054.7,455.5 1055.5,456.2 1056.4,456.5 1057.2,456.3 1058.0,456.8 1058.8,456.0 1059.6,457.2 1060.4,456.0 1061.3,457.2 1062.1,457.9 1062.9,458.2 1063.7,458.7 1064.5,456.4 1065.3,458.1 1066.2,458.5 1067.0,458.3 1067.8,457.0 1068.6,458.0 1069.4,459.1 1070.3,456.7 1071.1,458.1 1071.9,458.6 1072.7,457.4 1073.5,458.3 1074.3,457.1 1075.2,457.3 1076.0,457.3 1076.8,458.1 1077.6,457.9 1078.4,458.6 1079.2,457.3 1080.1,457.8 1080.9,458.6 1081.7,458.3 1082.5,457.0 1083.3,458.4 1084.2,457.5 1085.0,458.1 1085.8,458.0 1086.6,458.6 1087.4,457.8 1088.2,456.4 1089.1,456.6 1089.9,458.0 1090.7,457.1 1091.5,457.9 1092.3,457.1 1093.1,456.0 1094.0,456.8 1094.8,454.6 1095.6,451.8 1096.4,450.7 1097.2,440.3 1098.0,429.6 1098.9,413.6 1099.7,399.3 1100.5,398.0 1101.3,413.7 1102.1,428.2 1103.0,440.7 1103.8,449.1 1104.6,453.9 1105.4,455.4 1106.2,456.7 1107.0,456.4 1107.9,456.9 1108.7,456.5 1109.5,457.3 1110.3,458.1 1111.1,457.5 1111.9,458.2 1112.8,457.5 1113.6,457.6 1114.4,458.1 1115.2,458.0 1116.0,458.6 1116.9,458.3 1117.7,459.4 1118.5,458.1 1119.3,458.1 1120.1,457.6 1120.9,458.3 1121.8,458.8 1122.6,457.8 1123.4,458.3 1124.2,458.8 1125.0,458.2 1125.8,458.0 1126.7,459.0 1127.5,458.4 1128.3,458.6 1129.1,459.1 1129.9,459.1 1130.7,458.1 1131.6,457.9 1132.4,451.6 1133.2,458.2 1134.0,456.9 1134.8,452.2 1135.7,458.2 1136.5,458.6 1137.3,457.3 1138.1,458.9 1138.9,457.5 1139.7,457.8 1140.6,456.8 1141.4,457.5 1142.2,457.4 1143.0,457.2 1143.8,457.4 1144.6,456.9 1145.5,457.1 1146.3,455.6 1147.1,454.5 1147.9,454.1 1148.7,452.3 1149.6,448.0 1150.4,438.1 1151.2,419.0 1152.0,395.3 1152.8,368.2 1153.6,353.3 1154.5,366.9 1155.3,395.3 1156.1,419.9 1156.9,438.0 1157.7,447.2 1158.5,452.9 1159.4,454.5 1160.2,454.8 1161.0,456.4 1161.8,457.2 1162.6,456.5 1163.4,456.9 1164.3,455.8 1165.1,458.2 1165.9,457.3 1166.7,456.4 1167.5,456.7 1168.4,457.9 1169.2,458.7 1170.0,458.2 1170.8,458.6 1171.6,457.5 1172.4,457.4 1173.3,459.0 1174.1,458.8 1174.9,458.4 1175.7,459.4 1176.5,457.8 1177.3,458.2 1178.2,459.3 1179.0,459.8 1179.8,455.0 1180.6,459.8 1181.4,458.2 1182.3,458.8 1183.1,458.5 1183.9,457.5 1184.7,458.8 1185.5,459.3 1186.3,458.5 1187.2,458.6 1188.0,459.6 1188.8,457.8 1189.6,457.6 1190.4,458.2 1191.2,457.8 1192.1,459.6 1192.9,458.8 1193.7,458.0 1194.5,458.1 1195.3,460.5 1196.1,458.0 1197.0,457.7 1197.8,458.0 1198.6,457.6 1199.4,456.3 1200.2,454.6 1201.1,453.9 1201.9,455.6 1202.7,456.2 1203.5,456.0 1204.3,458.6 1205.1,458.8 1206.0,458.3 1206.8,458.4 1207.6,458.8 1208.4,458.1 1209.2,457.7 1210.0,458.9 1210.9,457.7 1211.7,458.9 1212.5,457.7 1213.3,458.6 1214.1,458.6 1215.0,459.9 1215.8,457.9 1216.6,457.7 1217.4,458.2 1218.2,457.9 1219.0,458.2 1219.9,458.9 1220.7,459.2 1221.5,459.8 1222.3,458.1 1223.1,460.4 1223.9,459.9 1224.8,458.4 1225.6,456.9 1226.4,458.4 1227.2,458.5 1228.0,456.8 1228.8,458.4 1229.7,458.2 1230.5,457.7 1231.3,458.6 1232.1,458.8 1232.9,457.6 1233.8,458.0 1234.6,457.2 1235.4,451.6 1236.2,457.3 1237.0,457.4 1237.8,456.2 1238.7,454.6 1239.5,455.8 1240.3,452.9 1241.1,451.6 1241.9,447.7 1242.7,436.8 1243.6,420.2 1244.4,398.4 1245.2,377.6 1246.0,365.9 1246.8,377.2 1247.7,400.0 1248.5,421.0 1249.3,436.6 1250.1,445.8 1250.9,449.4 1251.7,453.0 1252.6,455.3 1253.4,456.0 1254.2,456.9 1255.0,456.9 1255.8,457.4 1256.6,458.1 1257.5,457.1 1258.3,457.7 1259.1,456.9 1259.9,458.8 1260.7,458.2 1261.5,458.6 1262.4,459.4 1263.2,459.1 1264.0,458.4 1264.8,459.0 1265.6,457.5 1266.5,458.8 1267.3,458.7 1268.1,451.2 1268.9,459.5 1269.7,458.1 1270.5,459.1 1271.4,458.4 1272.2,459.4 1273.0,459.6 1273.8,455.4 1274.6,457.6 1275.4,458.6 1276.3,459.3 1277.1,458.5 1277.9,458.3 1278.7,459.1 1279.5,456.8 1280.4,458.3 1281.2,457.8 1282.0,459.0 1282.8,458.3 1283.6,458.0 1284.4,458.5 1285.3,457.8 1286.1,458.8 1286.9,458.3 1287.7,458.5 1288.5,458.3 1289.3,459.4 1290.2,458.7 1291.0,459.2 1291.8,459.1 1292.6,458.2 1293.4,459.2 1294.2,459.0 1295.1,459.0 1295.9,458.5 1296.7,458.5 1297.5,459.3 1298.3,453.8 1299.2,455.4 1300.0,459.1 1300.8,452.1 1301.6,459.3 1302.4,459.1 1303.2,459.5 1304.1,456.8 1304.9,453.4 1305.7,458.0 1306.5,458.6 1307.3,458.2 1308.1,458.2 1309.0,459.1 1309.8,459.9 1310.6,456.6 1311.4,458.3 1312.2,458.7 1313.1,458.4 1313.9,458.1 1314.7,457.4 1315.5,457.6 1316.3,458.6 1317.1,458.8 1318.0,457.9 1318.8,457.1 1319.6,457.5 1320.4,456.9 1321.2,456.9 1322.0,455.6 1322.9,453.3 1323.7,450.4 1324.5,443.2 1325.3,435.2 1326.1,423.2 1326.9,409.3 1327.8,404.7 1328.6,409.4 1329.4,423.1 1330.2,435.2 1331.0,443.9 1331.9,450.9 1332.7,453.4 1333.5,455.1 1334.3,456.1 1335.1,457.0 1335.9,457.2 1336.8,457.8 1337.6,457.4 1338.4,458.6 1339.2,458.9 1340.0,457.9 1340.8,457.3 1341.7,458.9 1342.5,459.2 1343.3,458.4 1344.1,457.6 1344.9,458.8 1345.8,459.7 1346.6,457.3 1347.4,459.0 1348.2,454.2 1349.0,454.7 1349.8,459.0 1350.7,457.8 1351.5,458.9 1352.3,459.6 1353.1,458.9 1353.9,458.1 1354.7,457.5 1355.6,457.8 1356.4,457.5 1357.2,459.9 1358.0,458.6 1358.8,458.0 1359.6,457.8 1360.5,457.9 1361.3,458.4 1362.1,457.6 1362.9,459.5 1363.7,452.5 1364.6,450.1 1365.4,456.5 1366.2,449.6 1367.0,455.8 1367.8,455.0 1368.6,456.5 1369.5,457.3 1370.3,458.3 1371.1,458.5 1371.9,457.9 1372.7,457.8 1373.5,458.8 1374.4,457.9 1375.2,459.7 1376.0,458.8 1376.8,458.0 1377.6,458.5 1378.5,458.4 1379.3,458.7 1380.1,459.4 1380.9,457.8 1381.7,457.5 1382.5,459.0 1383.4,452.8 1384.2,458.9 1385.0,459.1 1385.8,458.6 1386.6,459.3 1387.4,458.1 1388.3,458.7 1389.1,458.1 1389.9,457.8 1390.7,459.0 1391.5,458.9 1392.3,457.1 1393.2,457.7 1394.0,458.6 1394.8,459.0 1395.6,457.7 1396.4,457.9 1397.3,456.8 1398.1,459.2 1398.9,457.2 1399.7,456.4 1400.5,454.0 1401.3,450.4 1402.2,444.4 1403.0,436.2 1403.8,429.4 1404.6,425.5 1405.4,429.8 1406.2,435.9 1407.1,443.6 1407.9,450.2 1408.7,454.5 1409.5,455.8 1410.3,456.4 1411.2,457.4 1412.0,457.4 1412.8,459.3 1413.6,458.8 1414.4,455.7 1415.2,458.6 1416.1,458.0 1416.9,459.3 1417.7,459.7 1418.5,459.0 1419.3,458.6 1420.1,459.4 1421.0,458.4 1421.8,459.2 1422.6,458.2 1423.4,458.0 1424.2,459.1 1425.0,458.9 1425.9,460.0 1426.7,458.5 1427.5,458.7 1428.3,457.9 1429.1,457.3 1430.0,457.4 1430.8,458.9 1431.6,455.3 1432.4,459.3 1433.2,459.4 1434.0,458.1 1434.9,459.3 1435.7,458.0 1436.5,458.1 1437.3,456.1 1438.1,455.3 1438.9,451.7 1439.8,450.1 1440.6,446.7 1441.4,445.8 1442.2,447.5 1443.0,443.1 1443.9,452.3 1444.7,455.2 1445.5,456.8 1446.3,456.3 1447.1,458.3 1447.9,458.7 1448.8,457.8 1449.6,458.7 1450.4,457.6 1451.2,459.6 1452.0,458.5 1452.8,458.6 1453.7,459.5 1454.5,453.2 1455.3,459.1 1456.1,458.0 1456.9,458.4 1457.7,457.8 1458.6,458.6 1459.4,459.5 1460.2,458.9 1461.0,459.4 1461.8,458.0 1462.7,458.1 1463.5,458.4 1464.3,459.1 1465.1,459.0 1465.9,458.7 1466.7,459.1 1467.6,458.5 1468.4,458.6 1469.2,459.4 1470.0,458.0 1470.8,458.5 1471.6,459.3 1472.5,457.9 1473.3,457.7 1474.1,455.7 1474.9,455.7 1475.7,450.3 1476.6,445.3 1477.4,445.4 1478.2,446.1 1479.0,446.4 1479.8,448.8 1480.6,451.0 1481.5,454.6 1482.3,456.2 1483.1,456.7 1483.9,456.8 1484.7,457.4 1485.5,458.5 1486.4,458.7 1487.2,458.6 1488.0,458.5 1488.8,457.4 1489.6,453.6 1490.4,458.0 1491.3,458.8 1492.1,459.1 1492.9,458.3 1493.7,458.1 1494.5,459.5 1495.4,459.1 1496.2,458.4 1497.0,456.7 1497.8,458.8 1498.6,459.3 1499.4,459.6 1500.3,458.4 1501.1,458.4 1501.9,458.6 1502.7,459.5 1503.5,458.1 1504.3,458.8 1505.2,458.2 1506.0,459.1 1506.8,457.8 1507.6,459.1 1508.4,458.5 1509.3,458.7 1510.1,459.2 1510.9,459.7 1511.7,457.7 1512.5,459.6 1513.3,459.3 1514.2,458.7 1515.0,459.9 1515.8,459.0 1516.6,459.8 1517.4,458.4 1518.2,458.3 1519.1,459.7 1519.9,456.1 1520.7,459.3 1521.5,459.5 1522.3,458.5 1523.1,457.9 1524.0,458.7 1524.8,459.9 1525.6,457.5 1526.4,458.4 1527.2,457.4 1528.1,458.8 1528.9,459.4 1529.7,457.9 1530.5,458.4 1531.3,459.6 1532.1,458.6 1533.0,457.8 1533.8,457.7 1534.6,457.2 1535.4,459.1 1536.2,458.0 1537.0,459.2 1537.9,459.0 1538.7,457.8 1539.5,457.8 1540.3,458.6 1541.1,454.6 1542.0,457.9 1542.8,456.3 1543.6,457.6 1544.4,455.7 1545.2,453.5 1546.0,452.5 1546.9,449.7 1547.7,445.8 1548.5,437.3 1549.3,428.9 1550.1,424.4 1550.9,420.1 1551.8,422.8 1552.6,429.1 1553.4,436.9 1554.2,445.4 1555.0,449.3 1555.8,452.5 1556.7,454.7 1557.5,457.4 1558.3,456.6 1559.1,457.9 1559.9,457.9 1560.8,458.1 1561.6,454.0 1562.4,458.7 1563.2,459.4 1564.0,458.3 1564.8,457.8 1565.7,457.6 1566.5,458.7 1567.3,458.4 1568.1,458.6 1568.9,458.7 1569.7,457.7 1570.6,456.6 1571.4,458.9 1572.2,458.7 1573.0,458.9 1573.8,459.4 1574.7,458.8 1575.5,458.2 1576.3,459.6 1577.1,458.5 1577.9,451.9 1578.7,457.8 1579.6,458.9 1580.4,458.1 1581.2,452.4 1582.0,459.2 1582.8,458.9 1583.6,459.6 1584.5,459.1 1585.3,458.6 1586.1,452.3 1586.9,458.5 1587.7,459.4 1588.5,458.9 1589.4,458.6 1590.2,459.5 1591.0,459.0"/>
<path d="M937 644 V94 H1591 V644" fill="none" stroke="#1a1a1a" stroke-width="2.2"/>
<line x1="935.9" y1="644" x2="1592.1" y2="644" stroke="#1a1a1a" stroke-width="2.2"/>
<line x1="937.0" y1="644" x2="937.0" y2="650.5" stroke="#1a1a1a" stroke-width="1.8"/>
<line x1="977.9" y1="644" x2="977.9" y2="647.5" stroke="#1a1a1a" stroke-width="1.8"/>
<line x1="1018.8" y1="644" x2="1018.8" y2="650.5" stroke="#1a1a1a" stroke-width="1.8"/>
<line x1="1059.6" y1="644" x2="1059.6" y2="647.5" stroke="#1a1a1a" stroke-width="1.8"/>
<line x1="1100.5" y1="644" x2="1100.5" y2="650.5" stroke="#1a1a1a" stroke-width="1.8"/>
<line x1="1141.4" y1="644" x2="1141.4" y2="647.5" stroke="#1a1a1a" stroke-width="1.8"/>
<line x1="1182.2" y1="644" x2="1182.2" y2="650.5" stroke="#1a1a1a" stroke-width="1.8"/>
<line x1="1223.1" y1="644" x2="1223.1" y2="647.5" stroke="#1a1a1a" stroke-width="1.8"/>
<line x1="1264.0" y1="644" x2="1264.0" y2="650.5" stroke="#1a1a1a" stroke-width="1.8"/>
<line x1="1304.9" y1="644" x2="1304.9" y2="647.5" stroke="#1a1a1a" stroke-width="1.8"/>
<line x1="1345.8" y1="644" x2="1345.8" y2="650.5" stroke="#1a1a1a" stroke-width="1.8"/>
<line x1="1386.6" y1="644" x2="1386.6" y2="647.5" stroke="#1a1a1a" stroke-width="1.8"/>
<line x1="1427.5" y1="644" x2="1427.5" y2="650.5" stroke="#1a1a1a" stroke-width="1.8"/>
<line x1="1468.4" y1="644" x2="1468.4" y2="647.5" stroke="#1a1a1a" stroke-width="1.8"/>
<line x1="1509.2" y1="644" x2="1509.2" y2="650.5" stroke="#1a1a1a" stroke-width="1.8"/>
<line x1="1550.1" y1="644" x2="1550.1" y2="647.5" stroke="#1a1a1a" stroke-width="1.8"/>
<line x1="1591.0" y1="644" x2="1591.0" y2="650.5" stroke="#1a1a1a" stroke-width="1.8"/>
<text x="937.0" y="683" font-size="27" text-anchor="middle" fill="#1a1a1a">20</text>
<text x="1018.8" y="683" font-size="27" text-anchor="middle" fill="#1a1a1a">30</text>
<text x="1100.5" y="683" font-size="27" text-anchor="middle" fill="#1a1a1a">40</text>
<text x="1182.2" y="683" font-size="27" text-anchor="middle" fill="#1a1a1a">50</text>
<text x="1264.0" y="683" font-size="27" text-anchor="middle" fill="#1a1a1a">60</text>
<text x="1345.8" y="683" font-size="27" text-anchor="middle" fill="#1a1a1a">70</text>
<text x="1427.5" y="683" font-size="27" text-anchor="middle" fill="#1a1a1a">80</text>
<text x="1509.2" y="683" font-size="27" text-anchor="middle" fill="#1a1a1a">90</text>
<text x="1591.0" y="683" font-size="27" text-anchor="middle" fill="#1a1a1a">100</text>
<text x="1265" y="733" font-size="27" text-anchor="middle" fill="#1a1a1a">2θ (°)</text>
<text transform="translate(906.8,368) rotate(-90)" font-size="30" text-anchor="middle" textLength="191" lengthAdjust="spacingAndGlyphs" fill="#1a1a1a">Intensity (a.u.)</text>
<text x="1435" y="386" font-size="28" textLength="105" lengthAdjust="spacingAndGlyphs" fill="#1a1a1a">Thin film</text>
<text x="1431" y="535" font-size="28" textLength="115" lengthAdjust="spacingAndGlyphs" fill="#5b83c0">Substrate</text>
<text x="953.7" y="511.5" font-size="25" textLength="62" lengthAdjust="spacingAndGlyphs" fill="#d9262c">(101)</text>
<text x="985" y="545" font-size="27" text-anchor="middle" fill="#d9262c">TiO<tspan font-size="16" dy="7.5">2</tspan></text>
<path d="M984 556.5 L986 570" stroke="#d9262c" stroke-width="1.9" fill="none"/><path d="M987.7 581 L981.1 569.2 L990.5 567.8 Z" fill="#d9262c"/>
<defs><filter id="semA" x="0" y="0" width="100%" height="100%" color-interpolation-filters="sRGB"><feTurbulence type="turbulence" baseFrequency="0.1" numOctaves="2" seed="4"/><feColorMatrix type="matrix" values="1 0 0 0 0  1 0 0 0 0  1 0 0 0 0  0 0 0 0 1"/><feComponentTransfer><feFuncR type="table" tableValues="0.278 0.418 0.478 0.518 0.558 0.598 0.638 0.678 0.698 0.718 0.728"/><feFuncG type="table" tableValues="0.278 0.418 0.478 0.518 0.558 0.598 0.638 0.678 0.698 0.718 0.728"/><feFuncB type="table" tableValues="0.278 0.418 0.478 0.518 0.558 0.598 0.638 0.678 0.698 0.718 0.728"/></feComponentTransfer><feComposite in2="SourceGraphic" operator="in"/></filter><filter id="semB" x="0" y="0" width="100%" height="100%" color-interpolation-filters="sRGB"><feTurbulence type="fractalNoise" baseFrequency="0.45" numOctaves="1" seed="9"/><feColorMatrix type="matrix" values="0.25 0 0 0 0.215  0.25 0 0 0 0.215  0.25 0 0 0 0.215  0 0 0 0 1"/><feComposite in2="SourceGraphic" operator="in"/></filter><filter id="semC" x="0" y="0" width="100%" height="100%" color-interpolation-filters="sRGB"><feTurbulence type="turbulence" baseFrequency="0.115" numOctaves="2" seed="12"/><feColorMatrix type="matrix" values="1 0 0 0 0  1 0 0 0 0  1 0 0 0 0  0 0 0 0 1"/><feComponentTransfer><feFuncR type="table" tableValues="0.330 0.470 0.530 0.570 0.610 0.650 0.690 0.730 0.750 0.770 0.780"/><feFuncG type="table" tableValues="0.330 0.470 0.530 0.570 0.610 0.650 0.690 0.730 0.750 0.770 0.780"/><feFuncB type="table" tableValues="0.330 0.470 0.530 0.570 0.610 0.650 0.690 0.730 0.750 0.770 0.780"/></feComponentTransfer><feComposite in2="SourceGraphic" operator="in"/></filter><filter id="semD" x="0" y="0" width="100%" height="100%" color-interpolation-filters="sRGB"><feTurbulence type="turbulence" baseFrequency="0.07" numOctaves="2" seed="21"/><feColorMatrix type="matrix" values="1 0 0 0 0  1 0 0 0 0  1 0 0 0 0  0 0 0 0 1"/><feComponentTransfer><feFuncR type="table" tableValues="0.270 0.410 0.470 0.510 0.550 0.590 0.630 0.670 0.690 0.710 0.720"/><feFuncG type="table" tableValues="0.270 0.410 0.470 0.510 0.550 0.590 0.630 0.670 0.690 0.710 0.720"/><feFuncB type="table" tableValues="0.270 0.410 0.470 0.510 0.550 0.590 0.630 0.670 0.690 0.710 0.720"/></feComponentTransfer><feComposite in2="SourceGraphic" operator="in"/></filter><filter id="semE" x="-30%" y="-30%" width="160%" height="160%" color-interpolation-filters="sRGB"><feGaussianBlur in="SourceAlpha" stdDeviation="9" result="m"/><feTurbulence type="turbulence" baseFrequency="0.12" numOctaves="2" seed="33"/><feColorMatrix type="matrix" values="0.4 0 0 0 0.31  0.4 0 0 0 0.31  0.4 0 0 0 0.31  0 0 0 0 1"/><feComposite in2="m" operator="in"/></filter><clipPath id="semclip"><rect x="14.5" y="821.2" width="791.5" height="550.8"/></clipPath></defs>
<g clip-path="url(#semclip)">
<rect x="14.5" y="821.2" width="791.5" height="550.8" fill="#7e7e7e" filter="url(#semA)"/>
<polygon points="400,821.2 694,821.2 650,850 599.5,887 544.5,927 520,955 470,930 445,912 420,870" fill="#6e6e6e" filter="url(#semD)"/>
<polygon points="534.6,1202 574.5,1177 600,1185 624,1198 719,1203 749,1242 806,1292 806,1372 410,1372 418,1308 450,1264.5" fill="#8a8a8a" filter="url(#semC)"/>
<polygon points="806,1100 806,1292 749,1242 719,1202 665,1203 690,1150 728,1122 760,1112" fill="#707070" filter="url(#semE)"/>
<polygon points="694,822 760,842 806,856 806,1109 760,1119 728,1129 693,1157 673,1201 632,1199.5 610,1190 591.5,1177 584,1154 563.5,1083 548,1035 534.5,996.5 524.5,954.5 544.5,927 599.5,887 650,850" fill="#5c5c5c" filter="url(#semB)"/>
<polyline points="806,856 760,842 694,823 650,850 599.5,887 544.5,927 524.5,954.5 534.5,996.5 548,1035 563.5,1083 584,1154 591.5,1177" fill="none" stroke="#b5b5b5" stroke-width="1.6" stroke-dasharray="3 2 5 1.5 2 2.5" stroke-opacity="0.8"/>
<polyline points="610,1190.5 632,1200 673,1201.5" fill="none" stroke="#b0b0b0" stroke-width="1.5" stroke-dasharray="4 2 3 2" stroke-opacity="0.7"/>
<polyline points="224,1321.7 274,1314 349,1309 423.8,1305" fill="none" stroke="#c4c4c4" stroke-width="1.3" stroke-dasharray="2.5 1.5 1 1.5" stroke-opacity="0.75"/>
<polyline points="423.8,1305 450,1264.5 534.6,1202 575,1177" fill="none" stroke="#4a4a4a" stroke-width="1.4" stroke-dasharray="2 2.5" stroke-opacity="0.7"/>
<polyline points="445,912 470,930 520,955" fill="none" stroke="#bdbdbd" stroke-width="1.4" stroke-dasharray="3 2" stroke-opacity="0.7"/>
<circle cx="735.5" cy="938" r="1.6" fill="#e8e8e8"/><circle cx="789.5" cy="957" r="1.3" fill="#d8d8d8"/><circle cx="646" cy="1177" r="1.4" fill="#e0e0e0"/>
<ellipse cx="61" cy="999.5" rx="6.5" ry="8" fill="#a8a8a8" stroke="#c8c8c8" stroke-width="1"/>
</g>
<text x="654.3" y="1005.7" font-size="26" font-weight="bold" textLength="66" lengthAdjust="spacing" fill="#fff">(001)</text>
<text x="355.3" y="1107" font-size="26" font-weight="bold" textLength="66" lengthAdjust="spacing" fill="#fff">(101)</text>
<text x="574.5" y="1293.2" font-size="26" font-weight="bold" textLength="67" lengthAdjust="spacing" fill="#fff">(111)</text>
<rect x="45.5" y="1329" width="166" height="20.8" fill="#fff" stroke="#222" stroke-width="1.6"/>
<text x="90" y="1314.3" font-size="34" textLength="77.5" lengthAdjust="spacingAndGlyphs" fill="#222" stroke="#222" stroke-width="4.4" stroke-linejoin="round">1 µm</text>
<text x="90" y="1314.3" font-size="34" textLength="77.5" lengthAdjust="spacingAndGlyphs" fill="#fff" stroke="#fff" stroke-width="0.9" stroke-linejoin="round">1 µm</text>
<g transform="translate(889.2,917.3)" shape-rendering="crispEdges"><rect x="0.00" y="0.00" width="162.11" height="7.29" fill="#5bb5f5"/><rect x="161.81" y="0.00" width="7.33" height="14.28" fill="#000000"/><rect x="168.84" y="0.00" width="28.44" height="7.29" fill="#7df50e"/><rect x="196.98" y="0.00" width="14.37" height="7.29" fill="#000000"/><rect x="211.05" y="0.00" width="112.86" height="42.24" fill="#1c1c1c"/><rect x="323.61" y="0.00" width="7.33" height="49.23" fill="#000000"/><rect x="330.64" y="0.00" width="63.61" height="7.29" fill="#fde3bd"/><rect x="393.96" y="0.00" width="14.37" height="7.29" fill="#000000"/><rect x="408.03" y="0.00" width="63.61" height="14.28" fill="#2df57a"/><rect x="471.35" y="0.00" width="7.33" height="14.28" fill="#000000"/><rect x="478.38" y="0.00" width="35.47" height="14.28" fill="#fb4d7d"/><rect x="0.00" y="6.99" width="7.33" height="7.29" fill="#000000"/><rect x="7.04" y="6.99" width="155.07" height="7.29" fill="#5bb5f5"/><rect x="168.84" y="6.99" width="35.47" height="7.29" fill="#7df50e"/><rect x="204.02" y="6.99" width="7.33" height="35.25" fill="#000000"/><rect x="330.64" y="6.99" width="70.65" height="14.28" fill="#fde3bd"/><rect x="401.00" y="6.99" width="7.33" height="7.29" fill="#000000"/><rect x="0.00" y="13.98" width="14.37" height="7.29" fill="#000000"/><rect x="14.07" y="13.98" width="141.00" height="14.28" fill="#5bb5f5"/><rect x="154.77" y="13.98" width="7.33" height="28.26" fill="#000000"/><rect x="161.81" y="13.98" width="42.51" height="28.26" fill="#7df50e"/><rect x="401.00" y="13.98" width="14.37" height="7.29" fill="#000000"/><rect x="415.06" y="13.98" width="49.55" height="14.28" fill="#2df57a"/><rect x="464.31" y="13.98" width="7.33" height="14.28" fill="#000000"/><rect x="471.35" y="13.98" width="42.51" height="28.26" fill="#fb4d7d"/><rect x="0.00" y="20.97" width="7.33" height="14.28" fill="#1f3ff0"/><rect x="7.04" y="20.97" width="7.33" height="7.29" fill="#000000"/><rect x="330.64" y="20.97" width="77.69" height="14.28" fill="#fde3bd"/><rect x="408.03" y="20.97" width="7.33" height="7.29" fill="#000000"/><rect x="7.04" y="27.96" width="14.37" height="7.29" fill="#000000"/><rect x="21.11" y="27.96" width="133.97" height="14.28" fill="#5bb5f5"/><rect x="408.03" y="27.96" width="63.61" height="7.29" fill="#000000"/><rect x="0.00" y="34.95" width="14.37" height="42.24" fill="#1f3ff0"/><rect x="14.07" y="34.95" width="7.33" height="7.29" fill="#000000"/><rect x="330.64" y="34.95" width="70.65" height="7.29" fill="#fde3bd"/><rect x="401.00" y="34.95" width="7.33" height="7.29" fill="#000000"/><rect x="408.03" y="34.95" width="56.58" height="7.29" fill="#8ef55a"/><rect x="464.31" y="34.95" width="7.33" height="7.29" fill="#000000"/><rect x="14.07" y="41.94" width="28.44" height="7.29" fill="#000000"/><rect x="42.21" y="41.94" width="77.69" height="7.29" fill="#5bb5f5"/><rect x="119.59" y="41.94" width="21.41" height="7.29" fill="#000000"/><rect x="140.70" y="41.94" width="7.33" height="7.29" fill="#5bb5f5"/><rect x="147.74" y="41.94" width="7.33" height="7.29" fill="#000000"/><rect x="154.77" y="41.94" width="42.51" height="7.29" fill="#7df50e"/><rect x="196.98" y="41.94" width="7.33" height="7.29" fill="#000000"/><rect x="204.02" y="41.94" width="119.89" height="7.29" fill="#1c1c1c"/><rect x="330.64" y="41.94" width="63.61" height="7.29" fill="#fde3bd"/><rect x="393.96" y="41.94" width="7.33" height="7.29" fill="#000000"/><rect x="401.00" y="41.94" width="63.61" height="7.29" fill="#8ef55a"/><rect x="464.31" y="41.94" width="14.37" height="7.29" fill="#000000"/><rect x="478.38" y="41.94" width="35.47" height="14.28" fill="#fb4d7d"/><rect x="14.07" y="48.93" width="7.33" height="28.26" fill="#000000"/><rect x="21.11" y="48.93" width="14.37" height="7.29" fill="#f8357a"/><rect x="35.17" y="48.93" width="84.72" height="7.29" fill="#000000"/><rect x="119.59" y="48.93" width="14.37" height="7.29" fill="#f8357a"/><rect x="133.66" y="48.93" width="77.69" height="7.29" fill="#000000"/><rect x="211.05" y="48.93" width="98.79" height="7.29" fill="#1c1c1c"/><rect x="309.54" y="48.93" width="35.47" height="7.29" fill="#000000"/><rect x="344.72" y="48.93" width="42.51" height="7.29" fill="#fde3bd"/><rect x="386.93" y="48.93" width="7.33" height="7.29" fill="#000000"/><rect x="393.96" y="48.93" width="77.69" height="7.29" fill="#8ef55a"/><rect x="471.35" y="48.93" width="7.33" height="7.29" fill="#000000"/><rect x="21.11" y="55.92" width="112.86" height="14.28" fill="#f8357a"/><rect x="133.66" y="55.92" width="7.33" height="14.28" fill="#000000"/><rect x="140.70" y="55.92" width="63.61" height="7.29" fill="#22f52c"/><rect x="204.02" y="55.92" width="14.37" height="7.29" fill="#000000"/><rect x="218.09" y="55.92" width="35.47" height="7.29" fill="#1c1c1c"/><rect x="253.26" y="55.92" width="21.41" height="7.29" fill="#000000"/><rect x="274.37" y="55.92" width="28.44" height="14.28" fill="#1c1c1c"/><rect x="302.50" y="55.92" width="7.33" height="14.28" fill="#000000"/><rect x="309.54" y="55.92" width="28.44" height="14.28" fill="#fb2030"/><rect x="337.68" y="55.92" width="7.33" height="7.29" fill="#000000"/><rect x="344.72" y="55.92" width="35.47" height="7.29" fill="#fde3bd"/><rect x="379.89" y="55.92" width="7.33" height="7.29" fill="#000000"/><rect x="386.93" y="55.92" width="84.72" height="35.25" fill="#8ef55a"/><rect x="471.35" y="55.92" width="35.47" height="7.29" fill="#000000"/><rect x="506.52" y="55.92" width="7.33" height="7.29" fill="#fb4d7d"/><rect x="140.70" y="62.91" width="70.65" height="7.29" fill="#22f52c"/><rect x="211.05" y="62.91" width="28.44" height="7.29" fill="#000000"/><rect x="239.19" y="62.91" width="7.33" height="7.29" fill="#1c1c1c"/><rect x="246.22" y="62.91" width="7.33" height="7.29" fill="#000000"/><rect x="253.26" y="62.91" width="14.37" height="7.29" fill="#45f0c0"/><rect x="267.33" y="62.91" width="7.33" height="7.29" fill="#000000"/><rect x="337.68" y="62.91" width="49.55" height="7.29" fill="#000000"/><rect x="471.35" y="62.91" width="7.33" height="21.27" fill="#000000"/><rect x="478.38" y="62.91" width="21.41" height="7.29" fill="#f85a14"/><rect x="499.49" y="62.91" width="14.37" height="7.29" fill="#000000"/><rect x="21.11" y="69.90" width="105.83" height="7.29" fill="#f8357a"/><rect x="126.63" y="69.90" width="7.33" height="14.28" fill="#000000"/><rect x="133.66" y="69.90" width="98.79" height="7.29" fill="#22f52c"/><rect x="232.16" y="69.90" width="42.51" height="7.29" fill="#000000"/><rect x="274.37" y="69.90" width="21.41" height="7.29" fill="#1c1c1c"/><rect x="295.47" y="69.90" width="7.33" height="7.29" fill="#000000"/><rect x="302.50" y="69.90" width="77.69" height="7.29" fill="#fb2030"/><rect x="379.89" y="69.90" width="7.33" height="21.27" fill="#000000"/><rect x="478.38" y="69.90" width="35.47" height="7.29" fill="#f85a14"/><rect x="0.00" y="76.89" width="7.33" height="42.24" fill="#1f3ff0"/><rect x="7.04" y="76.89" width="7.33" height="42.24" fill="#000000"/><rect x="14.07" y="76.89" width="112.86" height="7.29" fill="#f8357a"/><rect x="133.66" y="76.89" width="105.83" height="7.29" fill="#22f52c"/><rect x="239.19" y="76.89" width="14.37" height="7.29" fill="#000000"/><rect x="253.26" y="76.89" width="28.44" height="7.29" fill="#1c1c1c"/><rect x="281.40" y="76.89" width="14.37" height="7.29" fill="#000000"/><rect x="295.47" y="76.89" width="84.72" height="7.29" fill="#fb2030"/><rect x="478.38" y="76.89" width="28.44" height="7.29" fill="#f85a14"/><rect x="506.52" y="76.89" width="7.33" height="7.29" fill="#000000"/><rect x="14.07" y="83.88" width="105.83" height="7.29" fill="#f8357a"/><rect x="119.59" y="83.88" width="7.33" height="7.29" fill="#000000"/><rect x="126.63" y="83.88" width="119.89" height="7.29" fill="#22f52c"/><rect x="246.22" y="83.88" width="35.47" height="7.29" fill="#000000"/><rect x="281.40" y="83.88" width="98.79" height="42.24" fill="#fb2030"/><rect x="471.35" y="83.88" width="35.47" height="7.29" fill="#000000"/><rect x="506.52" y="83.88" width="7.33" height="7.29" fill="#e5f580"/><rect x="14.07" y="90.87" width="98.79" height="7.29" fill="#f8357a"/><rect x="112.56" y="90.87" width="7.33" height="7.29" fill="#000000"/><rect x="119.59" y="90.87" width="155.07" height="7.29" fill="#22f52c"/><rect x="274.37" y="90.87" width="7.33" height="35.25" fill="#000000"/><rect x="379.89" y="90.87" width="21.41" height="7.29" fill="#000000"/><rect x="401.00" y="90.87" width="56.58" height="7.29" fill="#8ef55a"/><rect x="457.28" y="90.87" width="14.37" height="7.29" fill="#000000"/><rect x="471.35" y="90.87" width="14.37" height="7.29" fill="#f02060"/><rect x="485.42" y="90.87" width="14.37" height="7.29" fill="#000000"/><rect x="499.49" y="90.87" width="14.37" height="49.23" fill="#e5f580"/><rect x="14.07" y="97.86" width="91.75" height="7.29" fill="#f8357a"/><rect x="105.53" y="97.86" width="7.33" height="7.29" fill="#000000"/><rect x="112.56" y="97.86" width="162.11" height="7.29" fill="#22f52c"/><rect x="379.89" y="97.86" width="7.33" height="21.27" fill="#000000"/><rect x="386.93" y="97.86" width="7.33" height="21.27" fill="#fb3030"/><rect x="393.96" y="97.86" width="7.33" height="7.29" fill="#000000"/><rect x="401.00" y="97.86" width="49.55" height="7.29" fill="#8ef55a"/><rect x="450.24" y="97.86" width="7.33" height="7.29" fill="#000000"/><rect x="457.28" y="97.86" width="35.47" height="28.26" fill="#f02060"/><rect x="492.45" y="97.86" width="7.33" height="42.24" fill="#000000"/><rect x="14.07" y="104.85" width="84.72" height="7.29" fill="#f8357a"/><rect x="98.49" y="104.85" width="7.33" height="7.29" fill="#000000"/><rect x="105.53" y="104.85" width="169.14" height="7.29" fill="#22f52c"/><rect x="393.96" y="104.85" width="63.61" height="7.29" fill="#000000"/><rect x="14.07" y="111.84" width="77.69" height="7.29" fill="#f8357a"/><rect x="91.45" y="111.84" width="7.33" height="7.29" fill="#000000"/><rect x="98.49" y="111.84" width="176.18" height="7.29" fill="#22f52c"/><rect x="393.96" y="111.84" width="14.37" height="7.29" fill="#000000"/><rect x="408.03" y="111.84" width="42.51" height="7.29" fill="#62b8f5"/><rect x="450.24" y="111.84" width="7.33" height="14.28" fill="#000000"/><rect x="0.00" y="118.83" width="14.37" height="7.29" fill="#000000"/><rect x="14.07" y="118.83" width="70.65" height="7.29" fill="#f8357a"/><rect x="84.42" y="118.83" width="7.33" height="7.29" fill="#000000"/><rect x="91.45" y="118.83" width="183.21" height="7.29" fill="#22f52c"/><rect x="379.89" y="118.83" width="14.37" height="7.29" fill="#000000"/><rect x="393.96" y="118.83" width="56.58" height="7.29" fill="#62b8f5"/><rect x="0.00" y="125.82" width="7.33" height="21.27" fill="#f04050"/><rect x="7.04" y="125.82" width="7.33" height="7.29" fill="#000000"/><rect x="14.07" y="125.82" width="63.61" height="7.29" fill="#f8357a"/><rect x="77.39" y="125.82" width="7.33" height="7.29" fill="#000000"/><rect x="84.42" y="125.82" width="190.25" height="7.29" fill="#22f52c"/><rect x="274.37" y="125.82" width="14.37" height="7.29" fill="#000000"/><rect x="288.44" y="125.82" width="91.75" height="7.29" fill="#fb2030"/><rect x="379.89" y="125.82" width="7.33" height="21.27" fill="#000000"/><rect x="386.93" y="125.82" width="63.61" height="7.29" fill="#62b8f5"/><rect x="450.24" y="125.82" width="14.37" height="7.29" fill="#000000"/><rect x="464.31" y="125.82" width="28.44" height="14.28" fill="#f02060"/><rect x="7.04" y="132.81" width="56.58" height="7.29" fill="#000000"/><rect x="63.31" y="132.81" width="7.33" height="7.29" fill="#f8357a"/><rect x="70.35" y="132.81" width="7.33" height="7.29" fill="#000000"/><rect x="77.39" y="132.81" width="204.32" height="7.29" fill="#22f52c"/><rect x="281.40" y="132.81" width="14.37" height="7.29" fill="#000000"/><rect x="295.47" y="132.81" width="84.72" height="14.28" fill="#fb2030"/><rect x="386.93" y="132.81" width="70.65" height="14.28" fill="#62b8f5"/><rect x="457.28" y="132.81" width="7.33" height="7.29" fill="#000000"/><rect x="7.04" y="139.80" width="7.33" height="7.29" fill="#000000"/><rect x="14.07" y="139.80" width="42.51" height="7.29" fill="#f98d6a"/><rect x="56.28" y="139.80" width="14.37" height="7.29" fill="#000000"/><rect x="70.35" y="139.80" width="218.39" height="7.29" fill="#22f52c"/><rect x="288.44" y="139.80" width="7.33" height="21.27" fill="#000000"/><rect x="457.28" y="139.80" width="14.37" height="7.29" fill="#000000"/><rect x="471.35" y="139.80" width="21.41" height="7.29" fill="#f02060"/><rect x="492.45" y="139.80" width="14.37" height="7.29" fill="#000000"/><rect x="506.52" y="139.80" width="7.33" height="14.28" fill="#e5f580"/><rect x="0.00" y="146.79" width="14.37" height="7.29" fill="#000000"/><rect x="14.07" y="146.79" width="49.55" height="7.29" fill="#f98d6a"/><rect x="63.31" y="146.79" width="14.37" height="7.29" fill="#000000"/><rect x="77.39" y="146.79" width="211.35" height="14.28" fill="#22f52c"/><rect x="295.47" y="146.79" width="77.69" height="7.29" fill="#fb2030"/><rect x="372.86" y="146.79" width="14.37" height="7.29" fill="#000000"/><rect x="386.93" y="146.79" width="77.69" height="7.29" fill="#62b8f5"/><rect x="464.31" y="146.79" width="7.33" height="7.29" fill="#000000"/><rect x="471.35" y="146.79" width="28.44" height="7.29" fill="#f02060"/><rect x="499.49" y="146.79" width="7.33" height="7.29" fill="#000000"/><rect x="0.00" y="153.78" width="70.65" height="14.28" fill="#f98d6a"/><rect x="70.35" y="153.78" width="7.33" height="7.29" fill="#000000"/><rect x="295.47" y="153.78" width="42.51" height="7.29" fill="#fb2030"/><rect x="337.68" y="153.78" width="35.47" height="7.29" fill="#000000"/><rect x="372.86" y="153.78" width="7.33" height="7.29" fill="#22f52c"/><rect x="379.89" y="153.78" width="21.41" height="7.29" fill="#000000"/><rect x="401.00" y="153.78" width="63.61" height="7.29" fill="#62b8f5"/><rect x="464.31" y="153.78" width="14.37" height="7.29" fill="#000000"/><rect x="478.38" y="153.78" width="21.41" height="7.29" fill="#f02060"/><rect x="499.49" y="153.78" width="14.37" height="7.29" fill="#000000"/><rect x="70.35" y="160.77" width="14.37" height="7.29" fill="#000000"/><rect x="84.42" y="160.77" width="204.32" height="7.29" fill="#22f52c"/><rect x="288.44" y="160.77" width="14.37" height="7.29" fill="#000000"/><rect x="302.50" y="160.77" width="21.41" height="7.29" fill="#fb2030"/><rect x="323.61" y="160.77" width="14.37" height="7.29" fill="#000000"/><rect x="337.68" y="160.77" width="14.37" height="7.29" fill="#f87050"/><rect x="351.75" y="160.77" width="7.33" height="7.29" fill="#000000"/><rect x="358.79" y="160.77" width="35.47" height="7.29" fill="#22f52c"/><rect x="393.96" y="160.77" width="14.37" height="7.29" fill="#000000"/><rect x="408.03" y="160.77" width="63.61" height="7.29" fill="#62b8f5"/><rect x="471.35" y="160.77" width="28.44" height="7.29" fill="#000000"/><rect x="499.49" y="160.77" width="14.37" height="7.29" fill="#40f5a0"/><rect x="0.00" y="167.76" width="77.69" height="42.24" fill="#f98d6a"/><rect x="77.39" y="167.76" width="7.33" height="35.25" fill="#000000"/><rect x="84.42" y="167.76" width="211.35" height="7.29" fill="#22f52c"/><rect x="295.47" y="167.76" width="35.47" height="7.29" fill="#000000"/><rect x="330.64" y="167.76" width="7.33" height="7.29" fill="#f87050"/><rect x="337.68" y="167.76" width="14.37" height="7.29" fill="#000000"/><rect x="351.75" y="167.76" width="49.55" height="7.29" fill="#22f52c"/><rect x="401.00" y="167.76" width="14.37" height="7.29" fill="#000000"/><rect x="415.06" y="167.76" width="63.61" height="7.29" fill="#62b8f5"/><rect x="478.38" y="167.76" width="7.33" height="14.28" fill="#000000"/><rect x="485.42" y="167.76" width="28.44" height="14.28" fill="#40f5a0"/><rect x="84.42" y="174.75" width="197.28" height="7.29" fill="#22f52c"/><rect x="281.40" y="174.75" width="21.41" height="7.29" fill="#000000"/><rect x="302.50" y="174.75" width="21.41" height="7.29" fill="#6650f8"/><rect x="323.61" y="174.75" width="28.44" height="7.29" fill="#000000"/><rect x="351.75" y="174.75" width="56.58" height="7.29" fill="#22f52c"/><rect x="408.03" y="174.75" width="14.37" height="7.29" fill="#000000"/><rect x="422.10" y="174.75" width="56.58" height="7.29" fill="#62b8f5"/><rect x="84.42" y="181.74" width="190.25" height="7.29" fill="#22f52c"/><rect x="274.37" y="181.74" width="7.33" height="7.29" fill="#000000"/><rect x="281.40" y="181.74" width="63.61" height="7.29" fill="#6650f8"/><rect x="344.72" y="181.74" width="7.33" height="7.29" fill="#000000"/><rect x="351.75" y="181.74" width="63.61" height="7.29" fill="#22f52c"/><rect x="415.06" y="181.74" width="14.37" height="7.29" fill="#000000"/><rect x="429.13" y="181.74" width="42.51" height="7.29" fill="#62b8f5"/><rect x="471.35" y="181.74" width="7.33" height="21.27" fill="#000000"/><rect x="478.38" y="181.74" width="35.47" height="35.25" fill="#40f5a0"/><rect x="84.42" y="188.73" width="183.21" height="7.29" fill="#22f52c"/><rect x="267.33" y="188.73" width="7.33" height="7.29" fill="#000000"/><rect x="274.37" y="188.73" width="70.65" height="7.29" fill="#6650f8"/><rect x="344.72" y="188.73" width="14.37" height="7.29" fill="#000000"/><rect x="358.79" y="188.73" width="63.61" height="7.29" fill="#22f52c"/><rect x="422.10" y="188.73" width="14.37" height="7.29" fill="#000000"/><rect x="436.17" y="188.73" width="35.47" height="7.29" fill="#62b8f5"/><rect x="84.42" y="195.72" width="176.18" height="7.29" fill="#22f52c"/><rect x="260.30" y="195.72" width="7.33" height="7.29" fill="#000000"/><rect x="267.33" y="195.72" width="84.72" height="7.29" fill="#6650f8"/><rect x="351.75" y="195.72" width="14.37" height="7.29" fill="#000000"/><rect x="365.82" y="195.72" width="63.61" height="7.29" fill="#22f52c"/><rect x="429.13" y="195.72" width="14.37" height="7.29" fill="#000000"/><rect x="443.20" y="195.72" width="28.44" height="7.29" fill="#62b8f5"/><rect x="77.39" y="202.71" width="14.37" height="7.29" fill="#000000"/><rect x="91.45" y="202.71" width="162.11" height="14.28" fill="#22f52c"/><rect x="253.26" y="202.71" width="7.33" height="14.28" fill="#000000"/><rect x="260.30" y="202.71" width="98.79" height="14.28" fill="#6650f8"/><rect x="358.79" y="202.71" width="7.33" height="7.29" fill="#000000"/><rect x="365.82" y="202.71" width="70.65" height="7.29" fill="#22f52c"/><rect x="436.17" y="202.71" width="42.51" height="7.29" fill="#000000"/><rect x="0.00" y="209.70" width="84.72" height="21.27" fill="#f98d6a"/><rect x="84.42" y="209.70" width="7.33" height="28.26" fill="#000000"/><rect x="358.79" y="209.70" width="14.37" height="7.29" fill="#000000"/><rect x="372.86" y="209.70" width="63.61" height="7.29" fill="#22f52c"/><rect x="436.17" y="209.70" width="7.33" height="14.28" fill="#000000"/><rect x="443.20" y="209.70" width="28.44" height="14.28" fill="#2030f0"/><rect x="471.35" y="209.70" width="7.33" height="7.29" fill="#000000"/><rect x="91.45" y="216.69" width="126.93" height="7.29" fill="#22f52c"/><rect x="218.09" y="216.69" width="35.47" height="7.29" fill="#000000"/><rect x="253.26" y="216.69" width="112.86" height="7.29" fill="#6650f8"/><rect x="365.82" y="216.69" width="21.41" height="7.29" fill="#000000"/><rect x="386.93" y="216.69" width="49.55" height="7.29" fill="#22f52c"/><rect x="471.35" y="216.69" width="14.37" height="7.29" fill="#000000"/><rect x="485.42" y="216.69" width="28.44" height="7.29" fill="#40f5a0"/><rect x="91.45" y="223.68" width="91.75" height="7.29" fill="#22f52c"/><rect x="182.91" y="223.68" width="35.47" height="7.29" fill="#000000"/><rect x="218.09" y="223.68" width="21.41" height="7.29" fill="#f98d5a"/><rect x="239.19" y="223.68" width="7.33" height="21.27" fill="#000000"/><rect x="246.22" y="223.68" width="133.97" height="7.29" fill="#6650f8"/><rect x="379.89" y="223.68" width="14.37" height="7.29" fill="#000000"/><rect x="393.96" y="223.68" width="35.47" height="7.29" fill="#22f52c"/><rect x="429.13" y="223.68" width="7.33" height="14.28" fill="#000000"/><rect x="436.17" y="223.68" width="42.51" height="7.29" fill="#2030f0"/><rect x="478.38" y="223.68" width="14.37" height="7.29" fill="#000000"/><rect x="492.45" y="223.68" width="21.41" height="7.29" fill="#40f5a0"/><rect x="0.00" y="230.67" width="7.33" height="7.29" fill="#000000"/><rect x="7.04" y="230.67" width="77.69" height="7.29" fill="#f98d6a"/><rect x="91.45" y="230.67" width="84.72" height="7.29" fill="#22f52c"/><rect x="175.88" y="230.67" width="7.33" height="14.28" fill="#000000"/><rect x="182.91" y="230.67" width="56.58" height="14.28" fill="#f98d5a"/><rect x="246.22" y="230.67" width="141.00" height="7.29" fill="#6650f8"/><rect x="386.93" y="230.67" width="21.41" height="7.29" fill="#000000"/><rect x="408.03" y="230.67" width="21.41" height="7.29" fill="#22f52c"/><rect x="436.17" y="230.67" width="49.55" height="7.29" fill="#2030f0"/><rect x="485.42" y="230.67" width="14.37" height="7.29" fill="#000000"/><rect x="499.49" y="230.67" width="14.37" height="7.29" fill="#40f5a0"/><rect x="0.00" y="237.66" width="14.37" height="7.29" fill="#000000"/><rect x="14.07" y="237.66" width="63.61" height="7.29" fill="#f98d6a"/><rect x="77.39" y="237.66" width="7.33" height="21.27" fill="#000000"/><rect x="84.42" y="237.66" width="91.75" height="7.29" fill="#22f52c"/><rect x="246.22" y="237.66" width="155.07" height="7.29" fill="#6650f8"/><rect x="401.00" y="237.66" width="35.47" height="7.29" fill="#000000"/><rect x="436.17" y="237.66" width="56.58" height="7.29" fill="#2030f0"/><rect x="492.45" y="237.66" width="14.37" height="7.29" fill="#000000"/><rect x="506.52" y="237.66" width="7.33" height="7.29" fill="#40f5a0"/><rect x="0.00" y="244.65" width="7.33" height="7.29" fill="#30f540"/><rect x="7.04" y="244.65" width="14.37" height="7.29" fill="#000000"/><rect x="21.11" y="244.65" width="56.58" height="7.29" fill="#f98d6a"/><rect x="84.42" y="244.65" width="77.69" height="7.29" fill="#22f52c"/><rect x="161.81" y="244.65" width="14.37" height="7.29" fill="#000000"/><rect x="175.88" y="244.65" width="56.58" height="7.29" fill="#f98d5a"/><rect x="232.16" y="244.65" width="7.33" height="35.25" fill="#000000"/><rect x="239.19" y="244.65" width="176.18" height="35.25" fill="#6650f8"/><rect x="415.06" y="244.65" width="28.44" height="7.29" fill="#000000"/><rect x="443.20" y="244.65" width="56.58" height="7.29" fill="#2030f0"/><rect x="499.49" y="244.65" width="14.37" height="7.29" fill="#000000"/><rect x="0.00" y="251.64" width="14.37" height="7.29" fill="#30f540"/><rect x="14.07" y="251.64" width="14.37" height="7.29" fill="#000000"/><rect x="28.14" y="251.64" width="49.55" height="7.29" fill="#f98d6a"/><rect x="84.42" y="251.64" width="63.61" height="7.29" fill="#22f52c"/><rect x="147.74" y="251.64" width="14.37" height="7.29" fill="#000000"/><rect x="161.81" y="251.64" width="70.65" height="7.29" fill="#f98d5a"/><rect x="415.06" y="251.64" width="7.33" height="28.26" fill="#000000"/><rect x="422.10" y="251.64" width="14.37" height="7.29" fill="#c2f81c"/><rect x="436.17" y="251.64" width="21.41" height="7.29" fill="#000000"/><rect x="457.28" y="251.64" width="42.51" height="7.29" fill="#2030f0"/><rect x="499.49" y="251.64" width="7.33" height="7.29" fill="#000000"/><rect x="506.52" y="251.64" width="7.33" height="7.29" fill="#45f540"/><rect x="0.00" y="258.63" width="21.41" height="7.29" fill="#30f540"/><rect x="21.11" y="258.63" width="21.41" height="7.29" fill="#000000"/><rect x="42.21" y="258.63" width="28.44" height="7.29" fill="#f98d6a"/><rect x="70.35" y="258.63" width="14.37" height="7.29" fill="#000000"/><rect x="84.42" y="258.63" width="56.58" height="14.28" fill="#22f52c"/><rect x="140.70" y="258.63" width="7.33" height="14.28" fill="#000000"/><rect x="147.74" y="258.63" width="84.72" height="21.27" fill="#f98d5a"/><rect x="422.10" y="258.63" width="28.44" height="7.29" fill="#c2f81c"/><rect x="450.24" y="258.63" width="28.44" height="7.29" fill="#000000"/><rect x="478.38" y="258.63" width="7.33" height="7.29" fill="#2030f0"/><rect x="485.42" y="258.63" width="14.37" height="7.29" fill="#000000"/><rect x="499.49" y="258.63" width="14.37" height="7.29" fill="#45f540"/><rect x="0.00" y="265.62" width="35.47" height="7.29" fill="#30f540"/><rect x="35.17" y="265.62" width="49.55" height="7.29" fill="#000000"/><rect x="422.10" y="265.62" width="49.55" height="14.28" fill="#c2f81c"/><rect x="471.35" y="265.62" width="14.37" height="7.29" fill="#000000"/><rect x="485.42" y="265.62" width="28.44" height="7.29" fill="#45f540"/><rect x="0.00" y="272.61" width="42.51" height="14.28" fill="#30f540"/><rect x="42.21" y="272.61" width="7.33" height="14.28" fill="#000000"/><rect x="49.25" y="272.61" width="28.44" height="7.29" fill="#f8a8d0"/><rect x="77.39" y="272.61" width="14.37" height="7.29" fill="#000000"/><rect x="91.45" y="272.61" width="35.47" height="7.29" fill="#22f52c"/><rect x="126.63" y="272.61" width="21.41" height="7.29" fill="#000000"/><rect x="471.35" y="272.61" width="7.33" height="21.27" fill="#000000"/><rect x="478.38" y="272.61" width="35.47" height="21.27" fill="#45f540"/><rect x="49.25" y="279.60" width="35.47" height="7.29" fill="#f8a8d0"/><rect x="84.42" y="279.60" width="14.37" height="7.29" fill="#000000"/><rect x="98.49" y="279.60" width="14.37" height="7.29" fill="#22f52c"/><rect x="112.56" y="279.60" width="14.37" height="7.29" fill="#000000"/><rect x="126.63" y="279.60" width="14.37" height="7.29" fill="#5028f8"/><rect x="140.70" y="279.60" width="21.41" height="7.29" fill="#000000"/><rect x="161.81" y="279.60" width="63.61" height="7.29" fill="#f98d5a"/><rect x="225.12" y="279.60" width="7.33" height="14.28" fill="#000000"/><rect x="232.16" y="279.60" width="176.18" height="14.28" fill="#6650f8"/><rect x="408.03" y="279.60" width="7.33" height="28.26" fill="#000000"/><rect x="415.06" y="279.60" width="56.58" height="14.28" fill="#c2f81c"/><rect x="0.00" y="286.59" width="35.47" height="14.28" fill="#30f540"/><rect x="35.17" y="286.59" width="7.33" height="14.28" fill="#000000"/><rect x="42.21" y="286.59" width="49.55" height="7.29" fill="#f8a8d0"/><rect x="91.45" y="286.59" width="21.41" height="7.29" fill="#000000"/><rect x="112.56" y="286.59" width="42.51" height="7.29" fill="#5028f8"/><rect x="154.77" y="286.59" width="28.44" height="7.29" fill="#000000"/><rect x="182.91" y="286.59" width="42.51" height="7.29" fill="#f98d5a"/><rect x="42.21" y="293.58" width="56.58" height="7.29" fill="#f8a8d0"/><rect x="98.49" y="293.58" width="7.33" height="7.29" fill="#000000"/><rect x="105.53" y="293.58" width="70.65" height="7.29" fill="#5028f8"/><rect x="175.88" y="293.58" width="49.55" height="7.29" fill="#000000"/><rect x="225.12" y="293.58" width="183.21" height="7.29" fill="#6650f8"/><rect x="415.06" y="293.58" width="49.55" height="7.29" fill="#c2f81c"/><rect x="464.31" y="293.58" width="7.33" height="7.29" fill="#000000"/><rect x="471.35" y="293.58" width="42.51" height="7.29" fill="#45f540"/><rect x="0.00" y="300.57" width="28.44" height="14.28" fill="#30f540"/><rect x="28.14" y="300.57" width="7.33" height="14.28" fill="#000000"/><rect x="35.17" y="300.57" width="56.58" height="7.29" fill="#f8a8d0"/><rect x="91.45" y="300.57" width="7.33" height="7.29" fill="#000000"/><rect x="98.49" y="300.57" width="119.89" height="7.29" fill="#5028f8"/><rect x="218.09" y="300.57" width="14.37" height="7.29" fill="#000000"/><rect x="232.16" y="300.57" width="176.18" height="14.28" fill="#6650f8"/><rect x="415.06" y="300.57" width="28.44" height="7.29" fill="#c2f81c"/><rect x="443.20" y="300.57" width="35.47" height="7.29" fill="#000000"/><rect x="478.38" y="300.57" width="35.47" height="7.29" fill="#45f540"/><rect x="35.17" y="307.56" width="49.55" height="7.29" fill="#f8a8d0"/><rect x="84.42" y="307.56" width="7.33" height="14.28" fill="#000000"/><rect x="91.45" y="307.56" width="133.97" height="14.28" fill="#5028f8"/><rect x="225.12" y="307.56" width="7.33" height="7.29" fill="#000000"/><rect x="408.03" y="307.56" width="35.47" height="7.29" fill="#000000"/><rect x="443.20" y="307.56" width="28.44" height="7.29" fill="#fb1270"/><rect x="471.35" y="307.56" width="14.37" height="7.29" fill="#000000"/><rect x="485.42" y="307.56" width="28.44" height="7.29" fill="#45f540"/><rect x="0.00" y="314.55" width="21.41" height="14.28" fill="#30f540"/><rect x="21.11" y="314.55" width="7.33" height="14.28" fill="#000000"/><rect x="28.14" y="314.55" width="56.58" height="7.29" fill="#f8a8d0"/><rect x="225.12" y="314.55" width="14.37" height="7.29" fill="#000000"/><rect x="239.19" y="314.55" width="169.14" height="7.29" fill="#6650f8"/><rect x="408.03" y="314.55" width="7.33" height="7.29" fill="#000000"/><rect x="415.06" y="314.55" width="63.61" height="7.29" fill="#fb1270"/><rect x="478.38" y="314.55" width="14.37" height="7.29" fill="#000000"/><rect x="492.45" y="314.55" width="21.41" height="14.28" fill="#45f540"/><rect x="28.14" y="321.54" width="49.55" height="7.29" fill="#f8a8d0"/><rect x="77.39" y="321.54" width="7.33" height="28.26" fill="#000000"/><rect x="84.42" y="321.54" width="148.04" height="7.29" fill="#5028f8"/><rect x="232.16" y="321.54" width="14.37" height="7.29" fill="#000000"/><rect x="246.22" y="321.54" width="155.07" height="7.29" fill="#6650f8"/><rect x="401.00" y="321.54" width="7.33" height="7.29" fill="#000000"/><rect x="408.03" y="321.54" width="77.69" height="7.29" fill="#fb1270"/><rect x="485.42" y="321.54" width="7.33" height="7.29" fill="#000000"/><rect x="0.00" y="328.53" width="14.37" height="14.28" fill="#30f540"/><rect x="14.07" y="328.53" width="7.33" height="14.28" fill="#000000"/><rect x="21.11" y="328.53" width="56.58" height="21.27" fill="#f8a8d0"/><rect x="84.42" y="328.53" width="155.07" height="14.28" fill="#5028f8"/><rect x="239.19" y="328.53" width="7.33" height="7.29" fill="#000000"/><rect x="246.22" y="328.53" width="148.04" height="7.29" fill="#6650f8"/><rect x="393.96" y="328.53" width="7.33" height="7.29" fill="#000000"/><rect x="401.00" y="328.53" width="84.72" height="7.29" fill="#fb1270"/><rect x="485.42" y="328.53" width="14.37" height="7.29" fill="#000000"/><rect x="499.49" y="328.53" width="14.37" height="7.29" fill="#45f540"/><rect x="239.19" y="335.52" width="14.37" height="7.29" fill="#000000"/><rect x="253.26" y="335.52" width="77.69" height="7.29" fill="#6650f8"/><rect x="330.64" y="335.52" width="63.61" height="7.29" fill="#000000"/><rect x="393.96" y="335.52" width="98.79" height="7.29" fill="#fb1270"/><rect x="492.45" y="335.52" width="21.41" height="7.29" fill="#000000"/><rect x="0.00" y="342.51" width="21.41" height="7.29" fill="#000000"/><rect x="84.42" y="342.51" width="162.11" height="7.29" fill="#5028f8"/><rect x="246.22" y="342.51" width="84.72" height="7.29" fill="#000000"/><rect x="330.64" y="342.51" width="56.58" height="7.29" fill="#10f560"/><rect x="386.93" y="342.51" width="7.33" height="21.27" fill="#000000"/><rect x="393.96" y="342.51" width="119.89" height="21.27" fill="#fb1270"/><rect x="0.00" y="349.50" width="14.37" height="14.28" fill="#d010e0"/><rect x="14.07" y="349.50" width="7.33" height="14.28" fill="#000000"/><rect x="21.11" y="349.50" width="49.55" height="14.28" fill="#f8a8d0"/><rect x="70.35" y="349.50" width="7.33" height="14.28" fill="#000000"/><rect x="77.39" y="349.50" width="176.18" height="14.28" fill="#5028f8"/><rect x="253.26" y="349.50" width="7.33" height="14.28" fill="#000000"/><rect x="260.30" y="349.50" width="126.93" height="14.28" fill="#10f560"/></g>
<defs><clipPath id="mapclip"><rect x="808" y="800" width="700" height="600"/></clipPath></defs>
<g clip-path="url(#mapclip)"><path d="M806 821 L1035.8 974.2 M806 1372 L1035.8 1172.1 M1035.8 974.2 H1275.6 V1172.1 H1035.8 Z" stroke="#fff" stroke-width="11" fill="none" stroke-linejoin="miter"/></g>
<path d="M806 821 L1035.8 974.2 M806 1372 L1035.8 1172.1 M1035.8 974.2 H1275.6 V1172.1 H1035.8 Z" stroke="#0a0a0a" stroke-width="3.1" fill="none" stroke-linejoin="miter"/>
<defs><clipPath id="ipfclip"><path d="M1487 1161.3 L1644.5 1009.3 Q1675 1085 1673 1161.3 Z"/></clipPath><linearGradient id="ip0" gradientUnits="userSpaceOnUse" x1="1642.3" y1="0" x2="1677.0" y2="0"><stop offset="0.000" stop-color="#0100ff"/><stop offset="1.008" stop-color="#001dff"/></linearGradient><linearGradient id="ip1" gradientUnits="userSpaceOnUse" x1="1640.4" y1="0" x2="1677.0" y2="0"><stop offset="0.000" stop-color="#0300ff"/><stop offset="1.012" stop-color="#0020ff"/></linearGradient><linearGradient id="ip2" gradientUnits="userSpaceOnUse" x1="1638.4" y1="0" x2="1677.0" y2="0"><stop offset="0.000" stop-color="#0500ff"/><stop offset="1.009" stop-color="#0023ff"/></linearGradient><linearGradient id="ip3" gradientUnits="userSpaceOnUse" x1="1636.3" y1="0" x2="1677.0" y2="0"><stop offset="0.000" stop-color="#0700ff"/><stop offset="1.007" stop-color="#0026ff"/></linearGradient><linearGradient id="ip4" gradientUnits="userSpaceOnUse" x1="1634.2" y1="0" x2="1677.0" y2="0"><stop offset="0.000" stop-color="#0900ff"/><stop offset="1.005" stop-color="#0029ff"/></linearGradient><linearGradient id="ip5" gradientUnits="userSpaceOnUse" x1="1632.1" y1="0" x2="1677.0" y2="0"><stop offset="0.000" stop-color="#0c00ff"/><stop offset="0.736" stop-color="#001eff"/><stop offset="1.003" stop-color="#002dff"/></linearGradient><linearGradient id="ip6" gradientUnits="userSpaceOnUse" x1="1630.1" y1="0" x2="1677.0" y2="0"><stop offset="0.000" stop-color="#0f00ff"/><stop offset="0.639" stop-color="#001bff"/><stop offset="1.001" stop-color="#0030ff"/></linearGradient><linearGradient id="ip7" gradientUnits="userSpaceOnUse" x1="1628.0" y1="0" x2="1677.0" y2="0"><stop offset="0.000" stop-color="#1200ff"/><stop offset="0.612" stop-color="#001bff"/><stop offset="1.000" stop-color="#0034ff"/></linearGradient><linearGradient id="ip8" gradientUnits="userSpaceOnUse" x1="1625.9" y1="0" x2="1677.0" y2="0"><stop offset="0.000" stop-color="#1600ff"/><stop offset="0.607" stop-color="#001dff"/><stop offset="0.998" stop-color="#0037ff"/></linearGradient><linearGradient id="ip9" gradientUnits="userSpaceOnUse" x1="1623.8" y1="0" x2="1677.0" y2="0"><stop offset="0.000" stop-color="#1900ff"/><stop offset="0.602" stop-color="#001fff"/><stop offset="0.997" stop-color="#003bff"/></linearGradient><linearGradient id="ip10" gradientUnits="userSpaceOnUse" x1="1621.8" y1="0" x2="1677.0" y2="0"><stop offset="0.000" stop-color="#1d00ff"/><stop offset="0.598" stop-color="#0020ff"/><stop offset="0.996" stop-color="#003fff"/></linearGradient><linearGradient id="ip11" gradientUnits="userSpaceOnUse" x1="1619.7" y1="0" x2="1677.0" y2="0"><stop offset="0.000" stop-color="#2100ff"/><stop offset="0.611" stop-color="#0024ff"/><stop offset="0.995" stop-color="#0044ff"/></linearGradient><linearGradient id="ip12" gradientUnits="userSpaceOnUse" x1="1617.6" y1="0" x2="1677.0" y2="0"><stop offset="0.000" stop-color="#2500ff"/><stop offset="0.623" stop-color="#0027ff"/><stop offset="0.994" stop-color="#0048ff"/></linearGradient><linearGradient id="ip13" gradientUnits="userSpaceOnUse" x1="1615.6" y1="0" x2="1677.0" y2="0"><stop offset="0.000" stop-color="#2a00ff"/><stop offset="0.618" stop-color="#0029ff"/><stop offset="0.993" stop-color="#004dff"/></linearGradient><linearGradient id="ip14" gradientUnits="userSpaceOnUse" x1="1613.5" y1="0" x2="1677.0" y2="0"><stop offset="0.000" stop-color="#2e00ff"/><stop offset="0.630" stop-color="#002dff"/><stop offset="1.008" stop-color="#0053ff"/></linearGradient><linearGradient id="ip15" gradientUnits="userSpaceOnUse" x1="1611.4" y1="0" x2="1677.0" y2="0"><stop offset="0.000" stop-color="#3300ff"/><stop offset="0.640" stop-color="#0031ff"/><stop offset="1.006" stop-color="#0059ff"/></linearGradient><linearGradient id="ip16" gradientUnits="userSpaceOnUse" x1="1609.3" y1="0" x2="1677.0" y2="0"><stop offset="0.000" stop-color="#3900ff"/><stop offset="0.650" stop-color="#0035ff"/><stop offset="1.005" stop-color="#005eff"/></linearGradient><linearGradient id="ip17" gradientUnits="userSpaceOnUse" x1="1607.3" y1="0" x2="1677.0" y2="0"><stop offset="0.000" stop-color="#3e00ff"/><stop offset="0.645" stop-color="#0038ff"/><stop offset="1.004" stop-color="#0064ff"/></linearGradient><linearGradient id="ip18" gradientUnits="userSpaceOnUse" x1="1605.2" y1="0" x2="1677.0" y2="0"><stop offset="0.000" stop-color="#4400ff"/><stop offset="0.655" stop-color="#003dff"/><stop offset="1.003" stop-color="#006aff"/></linearGradient><linearGradient id="ip19" gradientUnits="userSpaceOnUse" x1="1603.1" y1="0" x2="1677.0" y2="0"><stop offset="0.000" stop-color="#4a00ff"/><stop offset="0.650" stop-color="#0040ff"/><stop offset="1.002" stop-color="#0070ff"/></linearGradient><linearGradient id="ip20" gradientUnits="userSpaceOnUse" x1="1601.1" y1="0" x2="1677.0" y2="0"><stop offset="0.000" stop-color="#5000ff"/><stop offset="0.619" stop-color="#033fff"/><stop offset="1.001" stop-color="#0076ff"/></linearGradient><linearGradient id="ip21" gradientUnits="userSpaceOnUse" x1="1599.0" y1="0" x2="1677.0" y2="0"><stop offset="0.000" stop-color="#5700ff"/><stop offset="0.590" stop-color="#073fff"/><stop offset="1.000" stop-color="#007dff"/></linearGradient><linearGradient id="ip22" gradientUnits="userSpaceOnUse" x1="1596.9" y1="0" x2="1677.0" y2="0"><stop offset="0.000" stop-color="#5e00ff"/><stop offset="0.562" stop-color="#0c3fff"/><stop offset="0.874" stop-color="#006fff"/><stop offset="0.999" stop-color="#0084ff"/></linearGradient><linearGradient id="ip23" gradientUnits="userSpaceOnUse" x1="1594.8" y1="0" x2="1677.0" y2="0"><stop offset="0.000" stop-color="#6600ff"/><stop offset="0.536" stop-color="#123eff"/><stop offset="0.815" stop-color="#006cff"/><stop offset="0.998" stop-color="#008cff"/></linearGradient><linearGradient id="ip24" gradientUnits="userSpaceOnUse" x1="1592.8" y1="0" x2="1677.0" y2="0"><stop offset="0.000" stop-color="#6e00ff"/><stop offset="0.510" stop-color="#183eff"/><stop offset="0.795" stop-color="#006eff"/><stop offset="0.997" stop-color="#0093ff"/></linearGradient><linearGradient id="ip25" gradientUnits="userSpaceOnUse" x1="1590.7" y1="0" x2="1677.0" y2="0"><stop offset="0.000" stop-color="#7600ff"/><stop offset="0.487" stop-color="#1e3eff"/><stop offset="0.788" stop-color="#0073ff"/><stop offset="0.996" stop-color="#009cff"/></linearGradient><linearGradient id="ip26" gradientUnits="userSpaceOnUse" x1="1588.6" y1="0" x2="1677.0" y2="0"><stop offset="0.000" stop-color="#7f00ff"/><stop offset="0.464" stop-color="#253dff"/><stop offset="0.792" stop-color="#007aff"/><stop offset="0.996" stop-color="#00a4ff"/></linearGradient><linearGradient id="ip27" gradientUnits="userSpaceOnUse" x1="1586.5" y1="0" x2="1677.0" y2="0"><stop offset="0.000" stop-color="#8900ff"/><stop offset="0.442" stop-color="#2d3dff"/><stop offset="0.785" stop-color="#0080ff"/><stop offset="0.995" stop-color="#00adff"/></linearGradient><linearGradient id="ip28" gradientUnits="userSpaceOnUse" x1="1584.5" y1="0" x2="1677.0" y2="0"><stop offset="0.000" stop-color="#9300ff"/><stop offset="0.422" stop-color="#363cff"/><stop offset="0.789" stop-color="#0088ff"/><stop offset="1.005" stop-color="#00baff"/></linearGradient><linearGradient id="ip29" gradientUnits="userSpaceOnUse" x1="1582.4" y1="0" x2="1677.0" y2="0"><stop offset="0.000" stop-color="#9d00ff"/><stop offset="0.402" stop-color="#3f3cff"/><stop offset="0.782" stop-color="#008eff"/><stop offset="1.004" stop-color="#00c4ff"/></linearGradient><linearGradient id="ip30" gradientUnits="userSpaceOnUse" x1="1580.3" y1="0" x2="1677.0" y2="0"><stop offset="0.000" stop-color="#a800ff"/><stop offset="0.383" stop-color="#483bff"/><stop offset="0.786" stop-color="#0097ff"/><stop offset="1.003" stop-color="#00ceff"/></linearGradient><linearGradient id="ip31" gradientUnits="userSpaceOnUse" x1="1578.3" y1="0" x2="1677.0" y2="0"><stop offset="0.000" stop-color="#b400ff"/><stop offset="0.365" stop-color="#533bff"/><stop offset="0.790" stop-color="#00a1ff"/><stop offset="1.003" stop-color="#00daff"/></linearGradient><linearGradient id="ip32" gradientUnits="userSpaceOnUse" x1="1576.2" y1="0" x2="1677.0" y2="0"><stop offset="0.000" stop-color="#c000ff"/><stop offset="0.347" stop-color="#5e3aff"/><stop offset="0.784" stop-color="#01a8ff"/><stop offset="1.002" stop-color="#00e6ff"/></linearGradient><linearGradient id="ip33" gradientUnits="userSpaceOnUse" x1="1574.1" y1="0" x2="1677.0" y2="0"><stop offset="0.000" stop-color="#cd00ff"/><stop offset="0.330" stop-color="#6a3aff"/><stop offset="0.778" stop-color="#03b0ff"/><stop offset="1.001" stop-color="#00f3ff"/></linearGradient><linearGradient id="ip34" gradientUnits="userSpaceOnUse" x1="1572.0" y1="0" x2="1677.0" y2="0"><stop offset="0.000" stop-color="#db00ff"/><stop offset="0.314" stop-color="#7739ff"/><stop offset="0.762" stop-color="#07b5ff"/><stop offset="1.000" stop-color="#00fffe"/></linearGradient><linearGradient id="ip35" gradientUnits="userSpaceOnUse" x1="1570.0" y1="0" x2="1677.0" y2="0"><stop offset="0.000" stop-color="#ea00ff"/><stop offset="0.299" stop-color="#8538ff"/><stop offset="0.757" stop-color="#09bdff"/><stop offset="0.972" stop-color="#00fffa"/><stop offset="1.000" stop-color="#00fff1"/></linearGradient><linearGradient id="ip36" gradientUnits="userSpaceOnUse" x1="1567.9" y1="0" x2="1677.0" y2="0"><stop offset="0.000" stop-color="#fa00ff"/><stop offset="0.284" stop-color="#9438ff"/><stop offset="0.742" stop-color="#0ec3ff"/><stop offset="0.898" stop-color="#00f9ff"/><stop offset="0.999" stop-color="#00ffe4"/></linearGradient><linearGradient id="ip37" gradientUnits="userSpaceOnUse" x1="1565.8" y1="0" x2="1677.0" y2="0"><stop offset="0.000" stop-color="#ff00f4"/><stop offset="0.081" stop-color="#eb0aff"/><stop offset="0.531" stop-color="#4b86ff"/><stop offset="0.836" stop-color="#00f1ff"/><stop offset="0.917" stop-color="#00fff0"/><stop offset="0.998" stop-color="#00ffd8"/></linearGradient><linearGradient id="ip38" gradientUnits="userSpaceOnUse" x1="1563.8" y1="0" x2="1677.0" y2="0"><stop offset="0.000" stop-color="#ff00e4"/><stop offset="0.088" stop-color="#f80cff"/><stop offset="0.530" stop-color="#528dff"/><stop offset="0.839" stop-color="#00ffff"/><stop offset="0.998" stop-color="#00ffcc"/></linearGradient><linearGradient id="ip39" gradientUnits="userSpaceOnUse" x1="1561.7" y1="0" x2="1677.0" y2="0"><stop offset="0.000" stop-color="#ff00d6"/><stop offset="0.130" stop-color="#f717ff"/><stop offset="0.598" stop-color="#41afff"/><stop offset="0.815" stop-color="#05fffa"/><stop offset="0.997" stop-color="#00ffc1"/></linearGradient><linearGradient id="ip40" gradientUnits="userSpaceOnUse" x1="1559.6" y1="0" x2="1677.0" y2="0"><stop offset="0.000" stop-color="#ff00c8"/><stop offset="0.162" stop-color="#f921ff"/><stop offset="0.630" stop-color="#3cc6ff"/><stop offset="0.784" stop-color="#0dfff8"/><stop offset="0.928" stop-color="#00ffc8"/><stop offset="0.997" stop-color="#00ffb7"/></linearGradient><linearGradient id="ip41" gradientUnits="userSpaceOnUse" x1="1557.5" y1="0" x2="1677.0" y2="0"><stop offset="0.000" stop-color="#ff00bc"/><stop offset="0.167" stop-color="#ff23f6"/><stop offset="0.301" stop-color="#c950ff"/><stop offset="0.720" stop-color="#23f9ff"/><stop offset="0.871" stop-color="#00ffcd"/><stop offset="0.996" stop-color="#00ffac"/></linearGradient><linearGradient id="ip42" gradientUnits="userSpaceOnUse" x1="1555.5" y1="0" x2="1677.0" y2="0"><stop offset="0.000" stop-color="#ff00b0"/><stop offset="0.173" stop-color="#ff25e9"/><stop offset="0.239" stop-color="#f73fff"/><stop offset="0.675" stop-color="#37f3ff"/><stop offset="0.741" stop-color="#1effed"/><stop offset="0.889" stop-color="#00ffbc"/><stop offset="1.004" stop-color="#00ffa1"/></linearGradient><linearGradient id="ip43" gradientUnits="userSpaceOnUse" x1="1553.4" y1="0" x2="1677.0" y2="0"><stop offset="0.000" stop-color="#ff00a5"/><stop offset="0.170" stop-color="#ff23d8"/><stop offset="0.267" stop-color="#fa4dff"/><stop offset="0.680" stop-color="#39fffa"/><stop offset="0.849" stop-color="#02ffbc"/><stop offset="1.003" stop-color="#00ff98"/></linearGradient><linearGradient id="ip44" gradientUnits="userSpaceOnUse" x1="1551.3" y1="0" x2="1677.0" y2="0"><stop offset="0.000" stop-color="#ff009a"/><stop offset="0.175" stop-color="#ff25cc"/><stop offset="0.302" stop-color="#f861ff"/><stop offset="0.652" stop-color="#49fff8"/><stop offset="0.820" stop-color="#09ffb9"/><stop offset="1.003" stop-color="#00ff8f"/></linearGradient><linearGradient id="ip45" gradientUnits="userSpaceOnUse" x1="1549.2" y1="0" x2="1677.0" y2="0"><stop offset="0.000" stop-color="#ff0090"/><stop offset="0.172" stop-color="#ff24bd"/><stop offset="0.329" stop-color="#fb73ff"/><stop offset="0.618" stop-color="#60fffa"/><stop offset="0.775" stop-color="#17ffbb"/><stop offset="0.916" stop-color="#00ff97"/><stop offset="1.002" stop-color="#00ff87"/></linearGradient><linearGradient id="ip46" gradientUnits="userSpaceOnUse" x1="1547.2" y1="0" x2="1677.0" y2="0"><stop offset="0.000" stop-color="#ff0086"/><stop offset="0.177" stop-color="#ff25b2"/><stop offset="0.324" stop-color="#ff70ee"/><stop offset="0.370" stop-color="#f58eff"/><stop offset="0.593" stop-color="#75fff8"/><stop offset="0.739" stop-color="#24ffbb"/><stop offset="0.893" stop-color="#00ff93"/><stop offset="1.001" stop-color="#00ff7f"/></linearGradient><linearGradient id="ip47" gradientUnits="userSpaceOnUse" x1="1545.1" y1="0" x2="1677.0" y2="0"><stop offset="0.000" stop-color="#ff007e"/><stop offset="0.182" stop-color="#ff27a7"/><stop offset="0.334" stop-color="#ff76e2"/><stop offset="0.394" stop-color="#f8a5ff"/><stop offset="0.561" stop-color="#91fffa"/><stop offset="0.690" stop-color="#3cffc0"/><stop offset="0.864" stop-color="#03ff90"/><stop offset="1.001" stop-color="#00ff78"/></linearGradient><linearGradient id="ip48" gradientUnits="userSpaceOnUse" x1="1543.0" y1="0" x2="1677.0" y2="0"><stop offset="0.000" stop-color="#ff0075"/><stop offset="0.179" stop-color="#ff259b"/><stop offset="0.328" stop-color="#ff71d0"/><stop offset="0.425" stop-color="#f7c2ff"/><stop offset="0.537" stop-color="#aafff8"/><stop offset="0.657" stop-color="#4fffc0"/><stop offset="0.829" stop-color="#0bff8f"/><stop offset="0.993" stop-color="#00ff71"/><stop offset="1.000" stop-color="#00ff70"/></linearGradient><linearGradient id="ip49" gradientUnits="userSpaceOnUse" x1="1541.0" y1="0" x2="1677.0" y2="0"><stop offset="0.000" stop-color="#ff006d"/><stop offset="0.184" stop-color="#ff2791"/><stop offset="0.331" stop-color="#ff72c2"/><stop offset="0.434" stop-color="#ffd0f9"/><stop offset="0.507" stop-color="#cefffa"/><stop offset="0.617" stop-color="#6affc2"/><stop offset="0.772" stop-color="#1dff92"/><stop offset="0.919" stop-color="#00ff75"/><stop offset="1.000" stop-color="#00ff69"/></linearGradient><linearGradient id="ip50" gradientUnits="userSpaceOnUse" x1="1538.9" y1="0" x2="1677.0" y2="0"><stop offset="0.000" stop-color="#ff0065"/><stop offset="0.181" stop-color="#ff2686"/><stop offset="0.333" stop-color="#ff72b5"/><stop offset="0.442" stop-color="#ffd7ec"/><stop offset="0.478" stop-color="#f7fffd"/><stop offset="0.572" stop-color="#8fffc9"/><stop offset="0.710" stop-color="#37ff98"/><stop offset="0.891" stop-color="#01ff72"/><stop offset="0.999" stop-color="#00ff63"/></linearGradient><linearGradient id="ip51" gradientUnits="userSpaceOnUse" x1="1536.8" y1="0" x2="1677.0" y2="0"><stop offset="0.000" stop-color="#ff005e"/><stop offset="0.185" stop-color="#ff277e"/><stop offset="0.335" stop-color="#ff73a8"/><stop offset="0.442" stop-color="#ffd5da"/><stop offset="0.478" stop-color="#faffec"/><stop offset="0.578" stop-color="#8cffb9"/><stop offset="0.713" stop-color="#37ff8d"/><stop offset="0.892" stop-color="#01ff6a"/><stop offset="0.999" stop-color="#00ff5c"/></linearGradient><linearGradient id="ip52" gradientUnits="userSpaceOnUse" x1="1534.7" y1="0" x2="1677.0" y2="0"><stop offset="0.000" stop-color="#ff0058"/><stop offset="0.183" stop-color="#ff2674"/><stop offset="0.337" stop-color="#ff739c"/><stop offset="0.443" stop-color="#ffd4ca"/><stop offset="0.478" stop-color="#fcffdc"/><stop offset="0.576" stop-color="#8fffad"/><stop offset="0.710" stop-color="#3aff85"/><stop offset="0.893" stop-color="#02ff63"/><stop offset="0.998" stop-color="#00ff56"/></linearGradient><linearGradient id="ip53" gradientUnits="userSpaceOnUse" x1="1532.7" y1="0" x2="1677.0" y2="0"><stop offset="0.000" stop-color="#ff0051"/><stop offset="0.187" stop-color="#ff276c"/><stop offset="0.339" stop-color="#ff7491"/><stop offset="0.443" stop-color="#ffd2ba"/><stop offset="0.478" stop-color="#ffffcd"/><stop offset="0.575" stop-color="#93ffa2"/><stop offset="0.714" stop-color="#39ff7b"/><stop offset="0.894" stop-color="#02ff5c"/><stop offset="0.998" stop-color="#00ff50"/></linearGradient><linearGradient id="ip54" gradientUnits="userSpaceOnUse" x1="1530.6" y1="0" x2="1677.0" y2="0"><stop offset="0.000" stop-color="#ff004b"/><stop offset="0.184" stop-color="#ff2663"/><stop offset="0.342" stop-color="#ff7486"/><stop offset="0.451" stop-color="#ffd9af"/><stop offset="0.485" stop-color="#f8ffbb"/><stop offset="0.587" stop-color="#8aff92"/><stop offset="0.731" stop-color="#33ff6f"/><stop offset="0.915" stop-color="#00ff53"/><stop offset="0.997" stop-color="#00ff4a"/></linearGradient><linearGradient id="ip55" gradientUnits="userSpaceOnUse" x1="1528.5" y1="0" x2="1677.0" y2="0"><stop offset="0.000" stop-color="#ff0045"/><stop offset="0.189" stop-color="#ff275c"/><stop offset="0.343" stop-color="#ff757c"/><stop offset="0.451" stop-color="#ffd8a1"/><stop offset="0.485" stop-color="#faffad"/><stop offset="0.586" stop-color="#8dff88"/><stop offset="0.727" stop-color="#36ff67"/><stop offset="0.909" stop-color="#01ff4e"/><stop offset="0.997" stop-color="#00ff45"/></linearGradient><linearGradient id="ip56" gradientUnits="userSpaceOnUse" x1="1526.4" y1="0" x2="1677.0" y2="0"><stop offset="0.000" stop-color="#ff0040"/><stop offset="0.186" stop-color="#ff2654"/><stop offset="0.345" stop-color="#ff7572"/><stop offset="0.452" stop-color="#ffd693"/><stop offset="0.485" stop-color="#fdffa0"/><stop offset="0.585" stop-color="#90ff7e"/><stop offset="0.724" stop-color="#39ff60"/><stop offset="0.910" stop-color="#01ff48"/><stop offset="1.003" stop-color="#00ff3f"/></linearGradient><linearGradient id="ip57" gradientUnits="userSpaceOnUse" x1="1524.4" y1="0" x2="1677.0" y2="0"><stop offset="0.000" stop-color="#ff003a"/><stop offset="0.190" stop-color="#ff274e"/><stop offset="0.347" stop-color="#ff7669"/><stop offset="0.452" stop-color="#ffd587"/><stop offset="0.485" stop-color="#ffff93"/><stop offset="0.583" stop-color="#93ff74"/><stop offset="0.721" stop-color="#3bff59"/><stop offset="0.904" stop-color="#03ff43"/><stop offset="1.002" stop-color="#00ff3a"/></linearGradient><linearGradient id="ip58" gradientUnits="userSpaceOnUse" x1="1522.3" y1="0" x2="1677.0" y2="0"><stop offset="0.000" stop-color="#ff0035"/><stop offset="0.187" stop-color="#ff2647"/><stop offset="0.343" stop-color="#ff725f"/><stop offset="0.452" stop-color="#ffd37b"/><stop offset="0.491" stop-color="#f9ff85"/><stop offset="0.595" stop-color="#8bff68"/><stop offset="0.737" stop-color="#35ff4f"/><stop offset="0.924" stop-color="#01ff3b"/><stop offset="1.002" stop-color="#00ff36"/></linearGradient><linearGradient id="ip59" gradientUnits="userSpaceOnUse" x1="1520.2" y1="0" x2="1677.0" y2="0"><stop offset="0.000" stop-color="#ff0031"/><stop offset="0.191" stop-color="#ff2841"/><stop offset="0.351" stop-color="#ff7758"/><stop offset="0.459" stop-color="#ffda71"/><stop offset="0.491" stop-color="#fbff7a"/><stop offset="0.593" stop-color="#8eff60"/><stop offset="0.734" stop-color="#38ff49"/><stop offset="0.919" stop-color="#02ff37"/><stop offset="1.001" stop-color="#00ff31"/></linearGradient><linearGradient id="ip60" gradientUnits="userSpaceOnUse" x1="1518.2" y1="0" x2="1677.0" y2="0"><stop offset="0.000" stop-color="#ff002c"/><stop offset="0.195" stop-color="#ff293b"/><stop offset="0.353" stop-color="#ff7750"/><stop offset="0.460" stop-color="#ffd867"/><stop offset="0.497" stop-color="#f5ff6d"/><stop offset="0.598" stop-color="#8cff56"/><stop offset="0.743" stop-color="#35ff42"/><stop offset="0.932" stop-color="#00ff31"/><stop offset="1.001" stop-color="#00ff2d"/></linearGradient><linearGradient id="ip61" gradientUnits="userSpaceOnUse" x1="1516.1" y1="0" x2="1677.0" y2="0"><stop offset="0.000" stop-color="#ff0028"/><stop offset="0.193" stop-color="#ff2835"/><stop offset="0.348" stop-color="#ff7347"/><stop offset="0.460" stop-color="#ffd75c"/><stop offset="0.497" stop-color="#f7ff63"/><stop offset="0.597" stop-color="#8fff4f"/><stop offset="0.740" stop-color="#37ff3c"/><stop offset="0.926" stop-color="#02ff2d"/><stop offset="1.001" stop-color="#00ff29"/></linearGradient><linearGradient id="ip62" gradientUnits="userSpaceOnUse" x1="1514.0" y1="0" x2="1677.0" y2="0"><stop offset="0.000" stop-color="#ff0024"/><stop offset="0.196" stop-color="#ff2930"/><stop offset="0.356" stop-color="#ff7841"/><stop offset="0.466" stop-color="#ffdd54"/><stop offset="0.497" stop-color="#faff5a"/><stop offset="0.601" stop-color="#8cff46"/><stop offset="0.749" stop-color="#35ff35"/><stop offset="0.939" stop-color="#00ff28"/><stop offset="1.000" stop-color="#00ff25"/></linearGradient><linearGradient id="ip63" gradientUnits="userSpaceOnUse" x1="1511.9" y1="0" x2="1677.0" y2="0"><stop offset="0.000" stop-color="#ff0020"/><stop offset="0.194" stop-color="#ff282b"/><stop offset="0.351" stop-color="#ff7439"/><stop offset="0.460" stop-color="#ffd44a"/><stop offset="0.497" stop-color="#fcff50"/><stop offset="0.600" stop-color="#8fff3f"/><stop offset="0.745" stop-color="#37ff30"/><stop offset="0.933" stop-color="#01ff24"/><stop offset="1.000" stop-color="#00ff21"/></linearGradient><linearGradient id="ip64" gradientUnits="userSpaceOnUse" x1="1509.9" y1="0" x2="1677.0" y2="0"><stop offset="0.000" stop-color="#ff001c"/><stop offset="0.197" stop-color="#ff2926"/><stop offset="0.359" stop-color="#ff7934"/><stop offset="0.467" stop-color="#ffda42"/><stop offset="0.503" stop-color="#f6ff47"/><stop offset="0.604" stop-color="#8dff38"/><stop offset="0.748" stop-color="#37ff2b"/><stop offset="0.939" stop-color="#01ff20"/><stop offset="0.999" stop-color="#00ff1d"/></linearGradient><linearGradient id="ip65" gradientUnits="userSpaceOnUse" x1="1507.8" y1="0" x2="1677.0" y2="0"><stop offset="0.000" stop-color="#ff0019"/><stop offset="0.195" stop-color="#ff2821"/><stop offset="0.355" stop-color="#ff752d"/><stop offset="0.467" stop-color="#ffd93a"/><stop offset="0.502" stop-color="#f8ff3e"/><stop offset="0.609" stop-color="#8bff31"/><stop offset="0.756" stop-color="#34ff25"/><stop offset="0.946" stop-color="#01ff1c"/><stop offset="0.999" stop-color="#00ff1a"/></linearGradient><linearGradient id="ip66" gradientUnits="userSpaceOnUse" x1="1505.7" y1="0" x2="1677.0" y2="0"><stop offset="0.000" stop-color="#ff0016"/><stop offset="0.199" stop-color="#ff291d"/><stop offset="0.356" stop-color="#ff7627"/><stop offset="0.467" stop-color="#ffd833"/><stop offset="0.502" stop-color="#faff37"/><stop offset="0.607" stop-color="#8dff2b"/><stop offset="0.753" stop-color="#36ff21"/><stop offset="0.946" stop-color="#01ff18"/><stop offset="0.998" stop-color="#00ff17"/></linearGradient><linearGradient id="ip67" gradientUnits="userSpaceOnUse" x1="1503.7" y1="0" x2="1677.0" y2="0"><stop offset="0.000" stop-color="#ff0013"/><stop offset="0.196" stop-color="#ff2819"/><stop offset="0.358" stop-color="#ff7622"/><stop offset="0.467" stop-color="#ffd62b"/><stop offset="0.502" stop-color="#fdff2f"/><stop offset="0.606" stop-color="#90ff25"/><stop offset="0.750" stop-color="#39ff1c"/><stop offset="0.940" stop-color="#02ff15"/><stop offset="0.998" stop-color="#00ff14"/></linearGradient><linearGradient id="ip68" gradientUnits="userSpaceOnUse" x1="1501.6" y1="0" x2="1677.0" y2="0"><stop offset="0.000" stop-color="#ff0010"/><stop offset="0.200" stop-color="#ff2915"/><stop offset="0.359" stop-color="#ff771d"/><stop offset="0.473" stop-color="#ffdc25"/><stop offset="0.507" stop-color="#f7ff27"/><stop offset="0.610" stop-color="#8eff1f"/><stop offset="0.758" stop-color="#36ff18"/><stop offset="0.952" stop-color="#01ff12"/><stop offset="0.998" stop-color="#00ff11"/></linearGradient><linearGradient id="ip69" gradientUnits="userSpaceOnUse" x1="1499.5" y1="0" x2="1677.0" y2="0"><stop offset="0.000" stop-color="#ff000d"/><stop offset="0.197" stop-color="#ff2812"/><stop offset="0.361" stop-color="#ff7718"/><stop offset="0.473" stop-color="#ffdb1f"/><stop offset="0.507" stop-color="#f9ff21"/><stop offset="0.614" stop-color="#8cff1a"/><stop offset="0.761" stop-color="#36ff14"/><stop offset="0.952" stop-color="#01ff0f"/><stop offset="0.997" stop-color="#00ff0e"/></linearGradient><linearGradient id="ip70" gradientUnits="userSpaceOnUse" x1="1497.4" y1="0" x2="1677.0" y2="0"><stop offset="0.000" stop-color="#ff000b"/><stop offset="0.200" stop-color="#ff290e"/><stop offset="0.362" stop-color="#ff7713"/><stop offset="0.473" stop-color="#ffd919"/><stop offset="0.507" stop-color="#fbff1b"/><stop offset="0.613" stop-color="#8eff15"/><stop offset="0.757" stop-color="#38ff10"/><stop offset="0.952" stop-color="#01ff0c"/><stop offset="1.002" stop-color="#00ff0b"/></linearGradient><linearGradient id="ip71" gradientUnits="userSpaceOnUse" x1="1495.4" y1="0" x2="1677.0" y2="0"><stop offset="0.000" stop-color="#ff0008"/><stop offset="0.204" stop-color="#ff2a0b"/><stop offset="0.363" stop-color="#ff780f"/><stop offset="0.473" stop-color="#ffd813"/><stop offset="0.512" stop-color="#f6ff15"/><stop offset="0.617" stop-color="#8cff10"/><stop offset="0.765" stop-color="#35ff0c"/><stop offset="0.958" stop-color="#01ff09"/><stop offset="1.002" stop-color="#00ff09"/></linearGradient><linearGradient id="ip72" gradientUnits="userSpaceOnUse" x1="1493.3" y1="0" x2="1677.0" y2="0"><stop offset="0.000" stop-color="#ff0006"/><stop offset="0.201" stop-color="#ff2908"/><stop offset="0.365" stop-color="#ff780b"/><stop offset="0.479" stop-color="#ffdd0f"/><stop offset="0.512" stop-color="#f8ff0f"/><stop offset="0.621" stop-color="#8aff0c"/><stop offset="0.773" stop-color="#33ff09"/><stop offset="0.969" stop-color="#00ff07"/><stop offset="1.002" stop-color="#00ff07"/></linearGradient><linearGradient id="ip73" gradientUnits="userSpaceOnUse" x1="1491.2" y1="0" x2="1677.0" y2="0"><stop offset="0.000" stop-color="#ff0004"/><stop offset="0.205" stop-color="#ff2a06"/><stop offset="0.366" stop-color="#ff7808"/><stop offset="0.479" stop-color="#ffdc0a"/><stop offset="0.511" stop-color="#faff0b"/><stop offset="0.619" stop-color="#8cff08"/><stop offset="0.770" stop-color="#35ff06"/><stop offset="0.963" stop-color="#01ff05"/><stop offset="1.001" stop-color="#00ff05"/></linearGradient><linearGradient id="ip74" gradientUnits="userSpaceOnUse" x1="1489.1" y1="0" x2="1677.0" y2="0"><stop offset="0.000" stop-color="#ff0003"/><stop offset="0.202" stop-color="#ff2903"/><stop offset="0.367" stop-color="#ff7905"/><stop offset="0.479" stop-color="#ffdb06"/><stop offset="0.511" stop-color="#fcff06"/><stop offset="0.617" stop-color="#8fff05"/><stop offset="0.767" stop-color="#37ff04"/><stop offset="0.964" stop-color="#01ff03"/><stop offset="1.001" stop-color="#00ff03"/></linearGradient><linearGradient id="ip75" gradientUnits="userSpaceOnUse" x1="1487.1" y1="0" x2="1677.0" y2="0"><stop offset="0.000" stop-color="#ff0001"/><stop offset="0.205" stop-color="#ff2a01"/><stop offset="0.369" stop-color="#ff7902"/><stop offset="0.484" stop-color="#ffe002"/><stop offset="0.516" stop-color="#f7ff03"/><stop offset="0.621" stop-color="#8dff02"/><stop offset="0.774" stop-color="#35ff02"/><stop offset="0.969" stop-color="#01ff01"/><stop offset="1.000" stop-color="#00ff01"/></linearGradient><linearGradient id="ip76" gradientUnits="userSpaceOnUse" x1="1485.2" y1="0" x2="1677.0" y2="0"><stop offset="0.000" stop-color="#ff0000"/><stop offset="0.203" stop-color="#ff2900"/><stop offset="0.370" stop-color="#ff7a00"/><stop offset="0.485" stop-color="#ffdf00"/><stop offset="0.516" stop-color="#f8ff00"/><stop offset="0.626" stop-color="#8aff00"/><stop offset="0.777" stop-color="#34ff00"/><stop offset="0.975" stop-color="#00ff00"/><stop offset="1.001" stop-color="#00ff00"/></linearGradient></defs>
<g clip-path="url(#ipfclip)"><rect x="1642.3" y="1008.3" width="34.7" height="2.5" fill="url(#ip0)"/><rect x="1640.4" y="1010.3" width="36.6" height="2.5" fill="url(#ip1)"/><rect x="1638.4" y="1012.3" width="38.6" height="2.5" fill="url(#ip2)"/><rect x="1636.3" y="1014.3" width="40.7" height="2.5" fill="url(#ip3)"/><rect x="1634.2" y="1016.3" width="42.8" height="2.5" fill="url(#ip4)"/><rect x="1632.1" y="1018.3" width="44.9" height="2.5" fill="url(#ip5)"/><rect x="1630.1" y="1020.3" width="46.9" height="2.5" fill="url(#ip6)"/><rect x="1628.0" y="1022.3" width="49.0" height="2.5" fill="url(#ip7)"/><rect x="1625.9" y="1024.3" width="51.1" height="2.5" fill="url(#ip8)"/><rect x="1623.8" y="1026.3" width="53.2" height="2.5" fill="url(#ip9)"/><rect x="1621.8" y="1028.3" width="55.2" height="2.5" fill="url(#ip10)"/><rect x="1619.7" y="1030.3" width="57.3" height="2.5" fill="url(#ip11)"/><rect x="1617.6" y="1032.3" width="59.4" height="2.5" fill="url(#ip12)"/><rect x="1615.6" y="1034.3" width="61.4" height="2.5" fill="url(#ip13)"/><rect x="1613.5" y="1036.3" width="63.5" height="2.5" fill="url(#ip14)"/><rect x="1611.4" y="1038.3" width="65.6" height="2.5" fill="url(#ip15)"/><rect x="1609.3" y="1040.3" width="67.7" height="2.5" fill="url(#ip16)"/><rect x="1607.3" y="1042.3" width="69.7" height="2.5" fill="url(#ip17)"/><rect x="1605.2" y="1044.3" width="71.8" height="2.5" fill="url(#ip18)"/><rect x="1603.1" y="1046.3" width="73.9" height="2.5" fill="url(#ip19)"/><rect x="1601.1" y="1048.3" width="75.9" height="2.5" fill="url(#ip20)"/><rect x="1599.0" y="1050.3" width="78.0" height="2.5" fill="url(#ip21)"/><rect x="1596.9" y="1052.3" width="80.1" height="2.5" fill="url(#ip22)"/><rect x="1594.8" y="1054.3" width="82.2" height="2.5" fill="url(#ip23)"/><rect x="1592.8" y="1056.3" width="84.2" height="2.5" fill="url(#ip24)"/><rect x="1590.7" y="1058.3" width="86.3" height="2.5" fill="url(#ip25)"/><rect x="1588.6" y="1060.3" width="88.4" height="2.5" fill="url(#ip26)"/><rect x="1586.5" y="1062.3" width="90.5" height="2.5" fill="url(#ip27)"/><rect x="1584.5" y="1064.3" width="92.5" height="2.5" fill="url(#ip28)"/><rect x="1582.4" y="1066.3" width="94.6" height="2.5" fill="url(#ip29)"/><rect x="1580.3" y="1068.3" width="96.7" height="2.5" fill="url(#ip30)"/><rect x="1578.3" y="1070.3" width="98.7" height="2.5" fill="url(#ip31)"/><rect x="1576.2" y="1072.3" width="100.8" height="2.5" fill="url(#ip32)"/><rect x="1574.1" y="1074.3" width="102.9" height="2.5" fill="url(#ip33)"/><rect x="1572.0" y="1076.3" width="105.0" height="2.5" fill="url(#ip34)"/><rect x="1570.0" y="1078.3" width="107.0" height="2.5" fill="url(#ip35)"/><rect x="1567.9" y="1080.3" width="109.1" height="2.5" fill="url(#ip36)"/><rect x="1565.8" y="1082.3" width="111.2" height="2.5" fill="url(#ip37)"/><rect x="1563.8" y="1084.3" width="113.2" height="2.5" fill="url(#ip38)"/><rect x="1561.7" y="1086.3" width="115.3" height="2.5" fill="url(#ip39)"/><rect x="1559.6" y="1088.3" width="117.4" height="2.5" fill="url(#ip40)"/><rect x="1557.5" y="1090.3" width="119.5" height="2.5" fill="url(#ip41)"/><rect x="1555.5" y="1092.3" width="121.5" height="2.5" fill="url(#ip42)"/><rect x="1553.4" y="1094.3" width="123.6" height="2.5" fill="url(#ip43)"/><rect x="1551.3" y="1096.3" width="125.7" height="2.5" fill="url(#ip44)"/><rect x="1549.2" y="1098.3" width="127.8" height="2.5" fill="url(#ip45)"/><rect x="1547.2" y="1100.3" width="129.8" height="2.5" fill="url(#ip46)"/><rect x="1545.1" y="1102.3" width="131.9" height="2.5" fill="url(#ip47)"/><rect x="1543.0" y="1104.3" width="134.0" height="2.5" fill="url(#ip48)"/><rect x="1541.0" y="1106.3" width="136.0" height="2.5" fill="url(#ip49)"/><rect x="1538.9" y="1108.3" width="138.1" height="2.5" fill="url(#ip50)"/><rect x="1536.8" y="1110.3" width="140.2" height="2.5" fill="url(#ip51)"/><rect x="1534.7" y="1112.3" width="142.3" height="2.5" fill="url(#ip52)"/><rect x="1532.7" y="1114.3" width="144.3" height="2.5" fill="url(#ip53)"/><rect x="1530.6" y="1116.3" width="146.4" height="2.5" fill="url(#ip54)"/><rect x="1528.5" y="1118.3" width="148.5" height="2.5" fill="url(#ip55)"/><rect x="1526.4" y="1120.3" width="150.6" height="2.5" fill="url(#ip56)"/><rect x="1524.4" y="1122.3" width="152.6" height="2.5" fill="url(#ip57)"/><rect x="1522.3" y="1124.3" width="154.7" height="2.5" fill="url(#ip58)"/><rect x="1520.2" y="1126.3" width="156.8" height="2.5" fill="url(#ip59)"/><rect x="1518.2" y="1128.3" width="158.8" height="2.5" fill="url(#ip60)"/><rect x="1516.1" y="1130.3" width="160.9" height="2.5" fill="url(#ip61)"/><rect x="1514.0" y="1132.3" width="163.0" height="2.5" fill="url(#ip62)"/><rect x="1511.9" y="1134.3" width="165.1" height="2.5" fill="url(#ip63)"/><rect x="1509.9" y="1136.3" width="167.1" height="2.5" fill="url(#ip64)"/><rect x="1507.8" y="1138.3" width="169.2" height="2.5" fill="url(#ip65)"/><rect x="1505.7" y="1140.3" width="171.3" height="2.5" fill="url(#ip66)"/><rect x="1503.7" y="1142.3" width="173.3" height="2.5" fill="url(#ip67)"/><rect x="1501.6" y="1144.3" width="175.4" height="2.5" fill="url(#ip68)"/><rect x="1499.5" y="1146.3" width="177.5" height="2.5" fill="url(#ip69)"/><rect x="1497.4" y="1148.3" width="179.6" height="2.5" fill="url(#ip70)"/><rect x="1495.4" y="1150.3" width="181.6" height="2.5" fill="url(#ip71)"/><rect x="1493.3" y="1152.3" width="183.7" height="2.5" fill="url(#ip72)"/><rect x="1491.2" y="1154.3" width="185.8" height="2.5" fill="url(#ip73)"/><rect x="1489.1" y="1156.3" width="187.9" height="2.5" fill="url(#ip74)"/><rect x="1487.1" y="1158.3" width="189.9" height="2.5" fill="url(#ip75)"/><rect x="1485.2" y="1160.3" width="191.8" height="2.5" fill="url(#ip76)"/></g>
<path d="M1487 1161.3 L1644.5 1009.3 Q1675 1085 1673 1161.3 Z" fill="none" stroke="#222" stroke-opacity="0.3" stroke-width="1"/>
<text x="1613" y="990.5" font-size="27" textLength="61" lengthAdjust="spacingAndGlyphs" fill="#1a1a1a">(111)</text>
<text x="1443.5" y="1195" font-size="27" textLength="60" lengthAdjust="spacingAndGlyphs" fill="#1a1a1a">(001)</text>
<text x="1655.5" y="1195" font-size="27" textLength="59" lengthAdjust="spacingAndGlyphs" fill="#1a1a1a">(101)</text>
<text x="1501" y="1056.5" font-size="28" fill="#1a1a1a">Z<tspan font-size="17" dy="6">0</tspan></text>
<text x="99.5" y="38.5" font-size="42" fill="#1a1a1a">a</text>
<text x="928" y="38.5" font-size="42" fill="#1a1a1a">b</text>
<text x="4.5" y="768.3" font-size="42" fill="#1a1a1a">c</text>
</svg></body></html>
